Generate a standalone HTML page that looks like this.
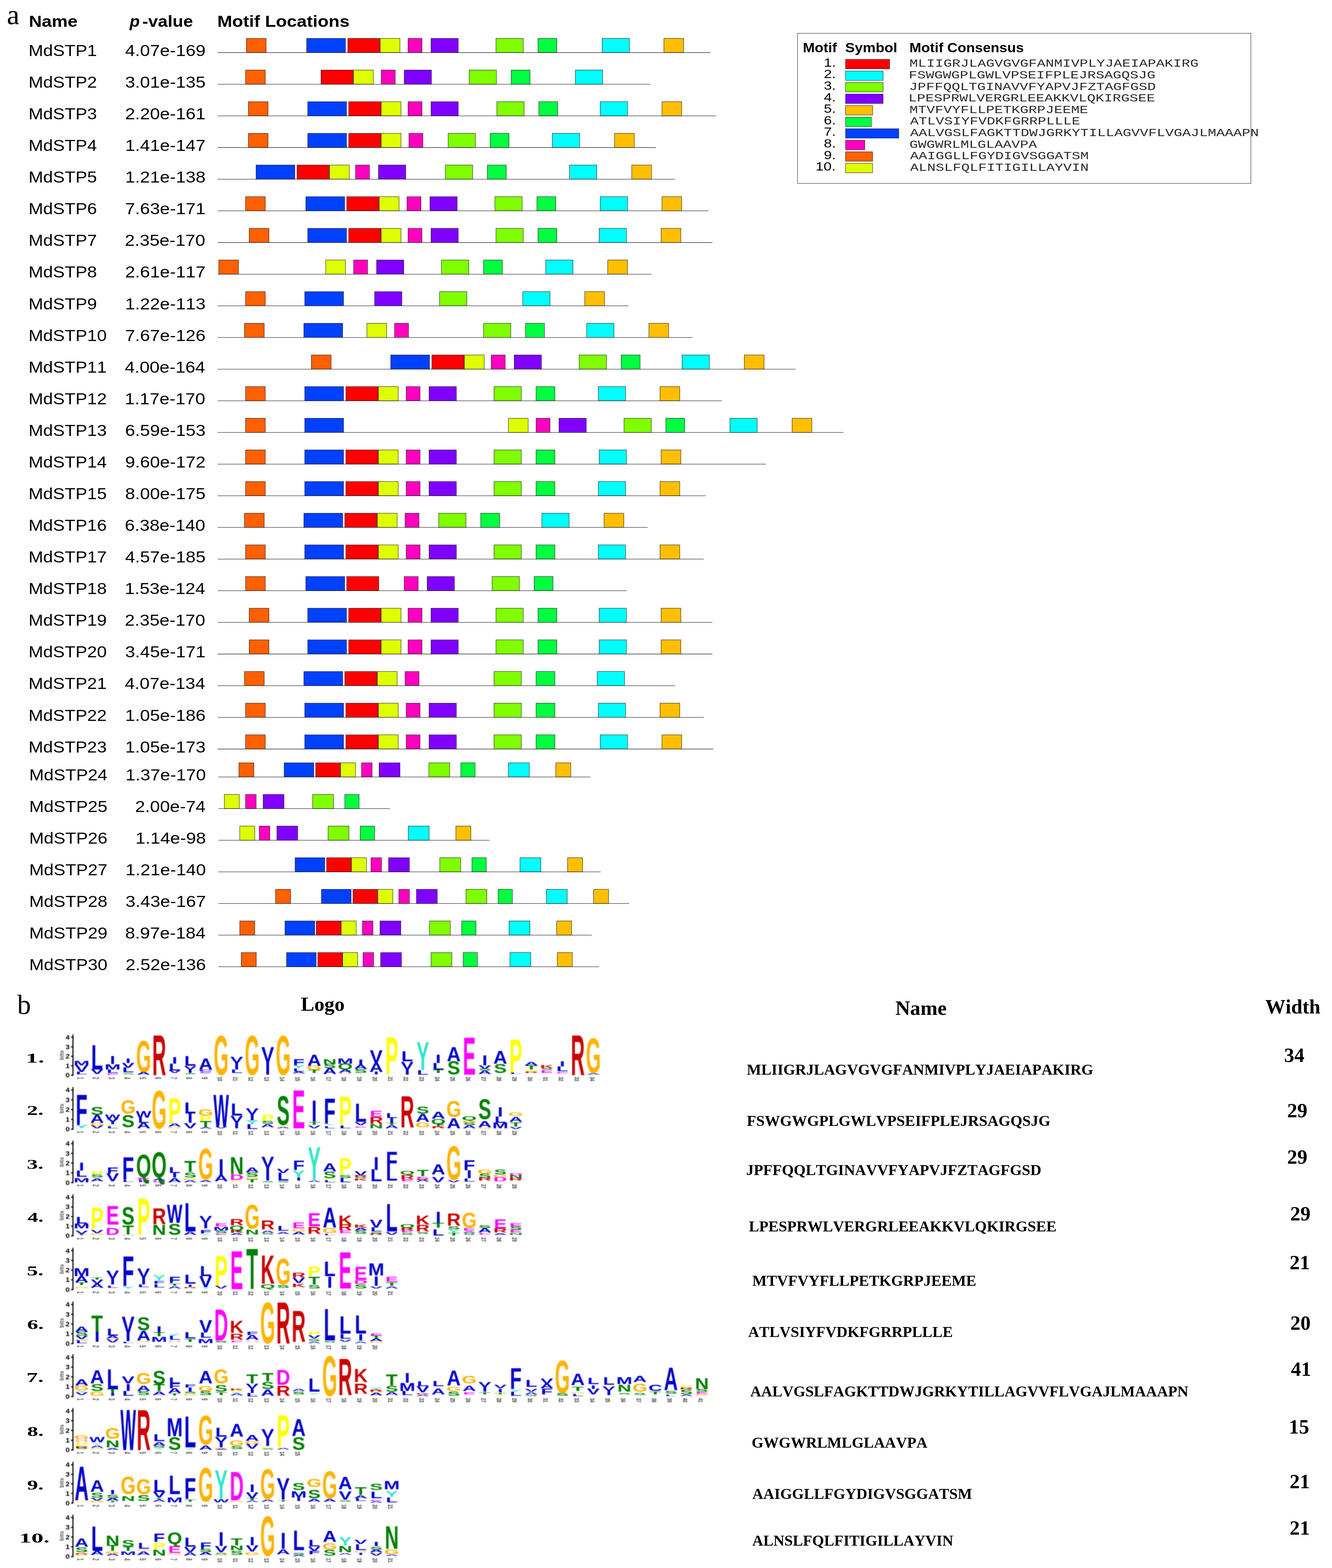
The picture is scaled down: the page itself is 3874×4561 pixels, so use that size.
<!DOCTYPE html>
<html><head><meta charset="utf-8"><title>MdSTP motifs</title>
<style>
html,body{margin:0;padding:0;background:#fff}
body{width:3874px;height:4561px;position:relative;overflow:hidden;font-family:"Liberation Sans",sans-serif;color:#000}
.t{position:absolute;white-space:nowrap;line-height:1;transform-origin:0 0;font-kerning:none;font-variant-ligatures:none}
.sf{font-family:"Liberation Serif",serif}
.mn{font-family:"Liberation Mono",monospace}
svg{position:absolute;left:0;top:0}
.ln{stroke:#1c1c1c;stroke-width:1.3;fill:none}
.bk{stroke:#111;stroke-width:1.1}
.tk{font:bold 19px "Liberation Sans",sans-serif;text-anchor:end;fill:#000}
.bt{font:bold 16px "Liberation Sans",sans-serif;text-anchor:middle;fill:#555}
.cn{font:bold 25px "Liberation Sans",sans-serif;fill:#4a4a4a}
.c2{font-size:19px;fill:#333}
.lg{filter:blur(0.9px)}
.g{font:bold 1.4535px "Liberation Sans",sans-serif;text-anchor:middle}
</style></head><body>
<svg width="3874" height="4561" viewBox="0 0 3874 4561">
<g><path d="M633 153H2066.21" class="ln"/><rect x="716.63" y="111.7" width="57.4" height="41" fill="#FF6000" class="bk"/><rect x="891.86" y="111.7" width="112.9" height="41" fill="#0040FF" class="bk"/><rect x="1011.59" y="111.7" width="93.2" height="41" fill="#FF0000" class="bk"/><rect x="1105.75" y="111.7" width="57.4" height="41" fill="#DFFF00" class="bk"/><rect x="1186.81" y="111.7" width="40.6" height="41" fill="#FF00BF" class="bk"/><rect x="1253.54" y="111.7" width="79.3" height="41" fill="#8000FF" class="bk"/><rect x="1442.48" y="111.7" width="79.3" height="41" fill="#80FF00" class="bk"/><rect x="1564.7" y="111.7" width="54.8" height="41" fill="#00FF40" class="bk"/><rect x="1751.28" y="111.7" width="79.3" height="41" fill="#00FFFF" class="bk"/><rect x="1930.87" y="111.7" width="57.4" height="41" fill="#FFBF00" class="bk"/><path d="M633 245.08H1891.61" class="ln"/><rect x="714.14" y="203.78" width="57.4" height="41" fill="#FF6000" class="bk"/><rect x="933.64" y="203.78" width="93.2" height="41" fill="#FF0000" class="bk"/><rect x="1028.42" y="203.78" width="57.4" height="41" fill="#DFFF00" class="bk"/><rect x="1108.87" y="203.78" width="40.6" height="41" fill="#FF00BF" class="bk"/><rect x="1175.59" y="203.78" width="79.3" height="41" fill="#8000FF" class="bk"/><rect x="1364.53" y="203.78" width="79.3" height="41" fill="#80FF00" class="bk"/><rect x="1486.76" y="203.78" width="54.8" height="41" fill="#00FF40" class="bk"/><rect x="1673.21" y="203.78" width="79.3" height="41" fill="#00FFFF" class="bk"/><path d="M633 337.16H2083.05" class="ln"/><rect x="722.24" y="295.86" width="57.4" height="41" fill="#FF6000" class="bk"/><rect x="894.98" y="295.86" width="112.9" height="41" fill="#0040FF" class="bk"/><rect x="1014.08" y="295.86" width="93.2" height="41" fill="#FF0000" class="bk"/><rect x="1108.87" y="295.86" width="57.4" height="41" fill="#DFFF00" class="bk"/><rect x="1186.81" y="295.86" width="40.6" height="41" fill="#FF00BF" class="bk"/><rect x="1253.54" y="295.86" width="79.3" height="41" fill="#8000FF" class="bk"/><rect x="1444.98" y="295.86" width="79.3" height="41" fill="#80FF00" class="bk"/><rect x="1567.2" y="295.86" width="54.8" height="41" fill="#00FF40" class="bk"/><rect x="1745.67" y="295.86" width="79.3" height="41" fill="#00FFFF" class="bk"/><rect x="1925.26" y="295.86" width="57.4" height="41" fill="#FFBF00" class="bk"/><path d="M633 429.24H1907.82" class="ln"/><rect x="722.24" y="387.94" width="57.4" height="41" fill="#FF6000" class="bk"/><rect x="894.98" y="387.94" width="112.9" height="41" fill="#0040FF" class="bk"/><rect x="1014.08" y="387.94" width="93.2" height="41" fill="#FF0000" class="bk"/><rect x="1108.87" y="387.94" width="57.4" height="41" fill="#DFFF00" class="bk"/><rect x="1189.31" y="387.94" width="40.6" height="41" fill="#FF00BF" class="bk"/><rect x="1303.42" y="387.94" width="79.3" height="41" fill="#80FF00" class="bk"/><rect x="1425.65" y="387.94" width="54.8" height="41" fill="#00FF40" class="bk"/><rect x="1606.48" y="387.94" width="79.3" height="41" fill="#00FFFF" class="bk"/><rect x="1787.45" y="387.94" width="57.4" height="41" fill="#FFBF00" class="bk"/><path d="M633 521.32H1963.32" class="ln"/><rect x="744.69" y="480.02" width="112.9" height="41" fill="#0040FF" class="bk"/><rect x="863.8" y="480.02" width="93.2" height="41" fill="#FF0000" class="bk"/><rect x="958.58" y="480.02" width="57.4" height="41" fill="#DFFF00" class="bk"/><rect x="1034.04" y="480.02" width="40.6" height="41" fill="#FF00BF" class="bk"/><rect x="1100.76" y="480.02" width="79.3" height="41" fill="#8000FF" class="bk"/><rect x="1295.32" y="480.02" width="79.3" height="41" fill="#80FF00" class="bk"/><rect x="1417.54" y="480.02" width="54.8" height="41" fill="#00FF40" class="bk"/><rect x="1656.37" y="480.02" width="79.3" height="41" fill="#00FFFF" class="bk"/><rect x="1837.33" y="480.02" width="57.4" height="41" fill="#FFBF00" class="bk"/><path d="M633 613.4H2060.6" class="ln"/><rect x="714.14" y="572.1" width="57.4" height="41" fill="#FF6000" class="bk"/><rect x="889.36" y="572.1" width="112.9" height="41" fill="#0040FF" class="bk"/><rect x="1008.47" y="572.1" width="93.2" height="41" fill="#FF0000" class="bk"/><rect x="1103.25" y="572.1" width="57.4" height="41" fill="#DFFF00" class="bk"/><rect x="1183.7" y="572.1" width="40.6" height="41" fill="#FF00BF" class="bk"/><rect x="1250.42" y="572.1" width="79.3" height="41" fill="#8000FF" class="bk"/><rect x="1439.36" y="572.1" width="79.3" height="41" fill="#80FF00" class="bk"/><rect x="1561.59" y="572.1" width="54.8" height="41" fill="#00FF40" class="bk"/><rect x="1745.67" y="572.1" width="79.3" height="41" fill="#00FFFF" class="bk"/><rect x="1925.26" y="572.1" width="57.4" height="41" fill="#FFBF00" class="bk"/><path d="M633 705.48H2071.83" class="ln"/><rect x="724.74" y="664.18" width="57.4" height="41" fill="#FF6000" class="bk"/><rect x="894.98" y="664.18" width="112.9" height="41" fill="#0040FF" class="bk"/><rect x="1014.08" y="664.18" width="93.2" height="41" fill="#FF0000" class="bk"/><rect x="1108.87" y="664.18" width="57.4" height="41" fill="#DFFF00" class="bk"/><rect x="1186.81" y="664.18" width="40.6" height="41" fill="#FF00BF" class="bk"/><rect x="1253.54" y="664.18" width="79.3" height="41" fill="#8000FF" class="bk"/><rect x="1442.48" y="664.18" width="79.3" height="41" fill="#80FF00" class="bk"/><rect x="1564.7" y="664.18" width="54.8" height="41" fill="#00FF40" class="bk"/><rect x="1742.55" y="664.18" width="79.3" height="41" fill="#00FFFF" class="bk"/><rect x="1922.77" y="664.18" width="57.4" height="41" fill="#FFBF00" class="bk"/><path d="M633 797.56H1894.73" class="ln"/><rect x="636.19" y="756.26" width="57.4" height="41" fill="#FF6000" class="bk"/><rect x="947.36" y="756.26" width="57.4" height="41" fill="#DFFF00" class="bk"/><rect x="1028.42" y="756.26" width="40.6" height="41" fill="#FF00BF" class="bk"/><rect x="1095.15" y="756.26" width="79.3" height="41" fill="#8000FF" class="bk"/><rect x="1284.09" y="756.26" width="79.3" height="41" fill="#80FF00" class="bk"/><rect x="1406.31" y="756.26" width="54.8" height="41" fill="#00FF40" class="bk"/><rect x="1587.15" y="756.26" width="79.3" height="41" fill="#00FFFF" class="bk"/><rect x="1767.49" y="756.26" width="57.4" height="41" fill="#FFBF00" class="bk"/><path d="M633 889.64H1828" class="ln"/><rect x="714.14" y="848.34" width="57.4" height="41" fill="#FF6000" class="bk"/><rect x="886.25" y="848.34" width="112.9" height="41" fill="#0040FF" class="bk"/><rect x="1089.53" y="848.34" width="79.3" height="41" fill="#8000FF" class="bk"/><rect x="1278.48" y="848.34" width="79.3" height="41" fill="#80FF00" class="bk"/><rect x="1520.43" y="848.34" width="79.3" height="41" fill="#00FFFF" class="bk"/><rect x="1700.77" y="848.34" width="57.4" height="41" fill="#FFBF00" class="bk"/><path d="M633 981.72H2013.83" class="ln"/><rect x="711.02" y="940.42" width="57.4" height="41" fill="#FF6000" class="bk"/><rect x="883.75" y="940.42" width="112.9" height="41" fill="#0040FF" class="bk"/><rect x="1067.09" y="940.42" width="57.4" height="41" fill="#DFFF00" class="bk"/><rect x="1147.53" y="940.42" width="40.6" height="41" fill="#FF00BF" class="bk"/><rect x="1406.31" y="940.42" width="79.3" height="41" fill="#80FF00" class="bk"/><rect x="1528.54" y="940.42" width="54.8" height="41" fill="#00FF40" class="bk"/><rect x="1706.38" y="940.42" width="79.3" height="41" fill="#00FFFF" class="bk"/><rect x="1887.22" y="940.42" width="57.4" height="41" fill="#FFBF00" class="bk"/><path d="M633 1073.8H2313.78" class="ln"/><rect x="905.58" y="1032.5" width="57.4" height="41" fill="#FF6000" class="bk"/><rect x="1136.3" y="1032.5" width="112.9" height="41" fill="#0040FF" class="bk"/><rect x="1256.03" y="1032.5" width="93.2" height="41" fill="#FF0000" class="bk"/><rect x="1350.82" y="1032.5" width="57.4" height="41" fill="#DFFF00" class="bk"/><rect x="1428.76" y="1032.5" width="40.6" height="41" fill="#FF00BF" class="bk"/><rect x="1495.49" y="1032.5" width="79.3" height="41" fill="#8000FF" class="bk"/><rect x="1684.43" y="1032.5" width="79.3" height="41" fill="#80FF00" class="bk"/><rect x="1806.78" y="1032.5" width="54.8" height="41" fill="#00FF40" class="bk"/><rect x="1983.88" y="1032.5" width="79.3" height="41" fill="#00FFFF" class="bk"/><rect x="2164.72" y="1032.5" width="57.4" height="41" fill="#FFBF00" class="bk"/><path d="M633 1165.88H2099.89" class="ln"/><rect x="714.14" y="1124.58" width="57.4" height="41" fill="#FF6000" class="bk"/><rect x="886.25" y="1124.58" width="112.9" height="41" fill="#0040FF" class="bk"/><rect x="1005.97" y="1124.58" width="93.2" height="41" fill="#FF0000" class="bk"/><rect x="1100.76" y="1124.58" width="57.4" height="41" fill="#DFFF00" class="bk"/><rect x="1181.2" y="1124.58" width="40.6" height="41" fill="#FF00BF" class="bk"/><rect x="1247.92" y="1124.58" width="79.3" height="41" fill="#8000FF" class="bk"/><rect x="1436.87" y="1124.58" width="79.3" height="41" fill="#80FF00" class="bk"/><rect x="1559.09" y="1124.58" width="54.8" height="41" fill="#00FF40" class="bk"/><rect x="1740.06" y="1124.58" width="79.3" height="41" fill="#00FFFF" class="bk"/><rect x="1919.65" y="1124.58" width="57.4" height="41" fill="#FFBF00" class="bk"/><path d="M633 1257.96H2452.83" class="ln"/><rect x="714.14" y="1216.66" width="57.4" height="41" fill="#FF6000" class="bk"/><rect x="886.25" y="1216.66" width="112.9" height="41" fill="#0040FF" class="bk"/><rect x="1478.65" y="1216.66" width="57.4" height="41" fill="#DFFF00" class="bk"/><rect x="1559.09" y="1216.66" width="40.6" height="41" fill="#FF00BF" class="bk"/><rect x="1625.82" y="1216.66" width="79.3" height="41" fill="#8000FF" class="bk"/><rect x="1814.89" y="1216.66" width="79.3" height="41" fill="#80FF00" class="bk"/><rect x="1936.48" y="1216.66" width="54.8" height="41" fill="#00FF40" class="bk"/><rect x="2122.94" y="1216.66" width="79.3" height="41" fill="#00FFFF" class="bk"/><rect x="2303.77" y="1216.66" width="57.4" height="41" fill="#FFBF00" class="bk"/><path d="M633 1350.04H2227.72" class="ln"/><rect x="714.14" y="1308.74" width="57.4" height="41" fill="#FF6000" class="bk"/><rect x="886.25" y="1308.74" width="112.9" height="41" fill="#0040FF" class="bk"/><rect x="1005.97" y="1308.74" width="93.2" height="41" fill="#FF0000" class="bk"/><rect x="1100.76" y="1308.74" width="57.4" height="41" fill="#DFFF00" class="bk"/><rect x="1181.2" y="1308.74" width="40.6" height="41" fill="#FF00BF" class="bk"/><rect x="1247.92" y="1308.74" width="79.3" height="41" fill="#8000FF" class="bk"/><rect x="1436.87" y="1308.74" width="79.3" height="41" fill="#80FF00" class="bk"/><rect x="1559.09" y="1308.74" width="54.8" height="41" fill="#00FF40" class="bk"/><rect x="1742.55" y="1308.74" width="79.3" height="41" fill="#00FFFF" class="bk"/><rect x="1922.77" y="1308.74" width="57.4" height="41" fill="#FFBF00" class="bk"/><path d="M633 1442.12H2052.49" class="ln"/><rect x="714.14" y="1400.82" width="57.4" height="41" fill="#FF6000" class="bk"/><rect x="886.25" y="1400.82" width="112.9" height="41" fill="#0040FF" class="bk"/><rect x="1005.97" y="1400.82" width="93.2" height="41" fill="#FF0000" class="bk"/><rect x="1100.76" y="1400.82" width="57.4" height="41" fill="#DFFF00" class="bk"/><rect x="1181.2" y="1400.82" width="40.6" height="41" fill="#FF00BF" class="bk"/><rect x="1247.92" y="1400.82" width="79.3" height="41" fill="#8000FF" class="bk"/><rect x="1436.87" y="1400.82" width="79.3" height="41" fill="#80FF00" class="bk"/><rect x="1559.09" y="1400.82" width="54.8" height="41" fill="#00FF40" class="bk"/><rect x="1740.06" y="1400.82" width="79.3" height="41" fill="#00FFFF" class="bk"/><rect x="1919.65" y="1400.82" width="57.4" height="41" fill="#FFBF00" class="bk"/><path d="M633 1534.2H1883.5" class="ln"/><rect x="711.02" y="1492.9" width="57.4" height="41" fill="#FF6000" class="bk"/><rect x="883.75" y="1492.9" width="112.9" height="41" fill="#0040FF" class="bk"/><rect x="1002.86" y="1492.9" width="93.2" height="41" fill="#FF0000" class="bk"/><rect x="1097.64" y="1492.9" width="57.4" height="41" fill="#DFFF00" class="bk"/><rect x="1178.08" y="1492.9" width="40.6" height="41" fill="#FF00BF" class="bk"/><rect x="1275.99" y="1492.9" width="79.3" height="41" fill="#80FF00" class="bk"/><rect x="1398.21" y="1492.9" width="54.8" height="41" fill="#00FF40" class="bk"/><rect x="1575.93" y="1492.9" width="79.3" height="41" fill="#00FFFF" class="bk"/><rect x="1756.89" y="1492.9" width="57.4" height="41" fill="#FFBF00" class="bk"/><path d="M633 1626.28H2046.88" class="ln"/><rect x="714.14" y="1584.98" width="57.4" height="41" fill="#FF6000" class="bk"/><rect x="886.25" y="1584.98" width="112.9" height="41" fill="#0040FF" class="bk"/><rect x="1005.97" y="1584.98" width="93.2" height="41" fill="#FF0000" class="bk"/><rect x="1100.76" y="1584.98" width="57.4" height="41" fill="#DFFF00" class="bk"/><rect x="1181.2" y="1584.98" width="40.6" height="41" fill="#FF00BF" class="bk"/><rect x="1247.92" y="1584.98" width="79.3" height="41" fill="#8000FF" class="bk"/><rect x="1436.87" y="1584.98" width="79.3" height="41" fill="#80FF00" class="bk"/><rect x="1559.09" y="1584.98" width="54.8" height="41" fill="#00FF40" class="bk"/><rect x="1740.06" y="1584.98" width="79.3" height="41" fill="#00FFFF" class="bk"/><rect x="1919.65" y="1584.98" width="57.4" height="41" fill="#FFBF00" class="bk"/><path d="M633 1718.36H1822.39" class="ln"/><rect x="714.14" y="1677.06" width="57.4" height="41" fill="#FF6000" class="bk"/><rect x="889.36" y="1677.06" width="112.9" height="41" fill="#0040FF" class="bk"/><rect x="1008.47" y="1677.06" width="93.2" height="41" fill="#FF0000" class="bk"/><rect x="1175.59" y="1677.06" width="40.6" height="41" fill="#FF00BF" class="bk"/><rect x="1242.31" y="1677.06" width="79.3" height="41" fill="#8000FF" class="bk"/><rect x="1431.26" y="1677.06" width="79.3" height="41" fill="#80FF00" class="bk"/><rect x="1553.48" y="1677.06" width="54.8" height="41" fill="#00FF40" class="bk"/><path d="M633 1810.44H2071.83" class="ln"/><rect x="724.74" y="1769.14" width="57.4" height="41" fill="#FF6000" class="bk"/><rect x="894.98" y="1769.14" width="112.9" height="41" fill="#0040FF" class="bk"/><rect x="1014.08" y="1769.14" width="93.2" height="41" fill="#FF0000" class="bk"/><rect x="1108.87" y="1769.14" width="57.4" height="41" fill="#DFFF00" class="bk"/><rect x="1186.81" y="1769.14" width="40.6" height="41" fill="#FF00BF" class="bk"/><rect x="1253.54" y="1769.14" width="79.3" height="41" fill="#8000FF" class="bk"/><rect x="1442.48" y="1769.14" width="79.3" height="41" fill="#80FF00" class="bk"/><rect x="1564.7" y="1769.14" width="54.8" height="41" fill="#00FF40" class="bk"/><rect x="1742.55" y="1769.14" width="79.3" height="41" fill="#00FFFF" class="bk"/><rect x="1922.77" y="1769.14" width="57.4" height="41" fill="#FFBF00" class="bk"/><path d="M633 1902.52H2071.83" class="ln"/><rect x="724.74" y="1861.22" width="57.4" height="41" fill="#FF6000" class="bk"/><rect x="894.98" y="1861.22" width="112.9" height="41" fill="#0040FF" class="bk"/><rect x="1014.08" y="1861.22" width="93.2" height="41" fill="#FF0000" class="bk"/><rect x="1108.87" y="1861.22" width="57.4" height="41" fill="#DFFF00" class="bk"/><rect x="1186.81" y="1861.22" width="40.6" height="41" fill="#FF00BF" class="bk"/><rect x="1253.54" y="1861.22" width="79.3" height="41" fill="#8000FF" class="bk"/><rect x="1442.48" y="1861.22" width="79.3" height="41" fill="#80FF00" class="bk"/><rect x="1564.7" y="1861.22" width="54.8" height="41" fill="#00FF40" class="bk"/><rect x="1742.55" y="1861.22" width="79.3" height="41" fill="#00FFFF" class="bk"/><rect x="1922.77" y="1861.22" width="57.4" height="41" fill="#FFBF00" class="bk"/><path d="M633 1994.6H1963.32" class="ln"/><rect x="711.02" y="1953.3" width="57.4" height="41" fill="#FF6000" class="bk"/><rect x="883.75" y="1953.3" width="112.9" height="41" fill="#0040FF" class="bk"/><rect x="1002.86" y="1953.3" width="93.2" height="41" fill="#FF0000" class="bk"/><rect x="1097.64" y="1953.3" width="57.4" height="41" fill="#DFFF00" class="bk"/><rect x="1178.08" y="1953.3" width="40.6" height="41" fill="#FF00BF" class="bk"/><rect x="1436.87" y="1953.3" width="79.3" height="41" fill="#80FF00" class="bk"/><rect x="1559.09" y="1953.3" width="54.8" height="41" fill="#00FF40" class="bk"/><rect x="1736.94" y="1953.3" width="79.3" height="41" fill="#00FFFF" class="bk"/><path d="M633 2086.68H2046.88" class="ln"/><rect x="714.14" y="2045.38" width="57.4" height="41" fill="#FF6000" class="bk"/><rect x="886.25" y="2045.38" width="112.9" height="41" fill="#0040FF" class="bk"/><rect x="1005.97" y="2045.38" width="93.2" height="41" fill="#FF0000" class="bk"/><rect x="1100.76" y="2045.38" width="57.4" height="41" fill="#DFFF00" class="bk"/><rect x="1181.2" y="2045.38" width="40.6" height="41" fill="#FF00BF" class="bk"/><rect x="1247.92" y="2045.38" width="79.3" height="41" fill="#8000FF" class="bk"/><rect x="1436.87" y="2045.38" width="79.3" height="41" fill="#80FF00" class="bk"/><rect x="1559.09" y="2045.38" width="54.8" height="41" fill="#00FF40" class="bk"/><rect x="1740.06" y="2045.38" width="79.3" height="41" fill="#00FFFF" class="bk"/><rect x="1919.65" y="2045.38" width="57.4" height="41" fill="#FFBF00" class="bk"/><path d="M633 2178.76H2074.32" class="ln"/><rect x="714.14" y="2137.46" width="57.4" height="41" fill="#FF6000" class="bk"/><rect x="886.25" y="2137.46" width="112.9" height="41" fill="#0040FF" class="bk"/><rect x="1005.97" y="2137.46" width="93.2" height="41" fill="#FF0000" class="bk"/><rect x="1100.76" y="2137.46" width="57.4" height="41" fill="#DFFF00" class="bk"/><rect x="1181.2" y="2137.46" width="40.6" height="41" fill="#FF00BF" class="bk"/><rect x="1247.92" y="2137.46" width="79.3" height="41" fill="#8000FF" class="bk"/><rect x="1436.87" y="2137.46" width="79.3" height="41" fill="#80FF00" class="bk"/><rect x="1559.09" y="2137.46" width="54.8" height="41" fill="#00FF40" class="bk"/><rect x="1745.67" y="2137.46" width="79.3" height="41" fill="#00FFFF" class="bk"/><rect x="1925.26" y="2137.46" width="57.4" height="41" fill="#FFBF00" class="bk"/><path d="M635 2260.2H1717.01" class="ln"/><rect x="694.81" y="2218.9" width="43.63" height="41" fill="#FF6000" class="bk"/><rect x="826.38" y="2218.9" width="86.33" height="41" fill="#0040FF" class="bk"/><rect x="918.05" y="2218.9" width="71.39" height="41" fill="#FF0000" class="bk"/><rect x="990.38" y="2218.9" width="43.63" height="41" fill="#DFFF00" class="bk"/><rect x="1051.5" y="2218.9" width="30.82" height="41" fill="#FF00BF" class="bk"/><rect x="1102.63" y="2218.9" width="60.71" height="41" fill="#8000FF" class="bk"/><rect x="1247.3" y="2218.9" width="60.71" height="41" fill="#80FF00" class="bk"/><rect x="1340.21" y="2218.9" width="41.5" height="41" fill="#00FF40" class="bk"/><rect x="1478.65" y="2218.9" width="60.71" height="41" fill="#00FFFF" class="bk"/><rect x="1616.46" y="2218.9" width="43.63" height="41" fill="#FFBF00" class="bk"/><path d="M635 2352.2H1133.83" class="ln"/><rect x="652.4" y="2310.9" width="43.63" height="41" fill="#DFFF00" class="bk"/><rect x="714.14" y="2310.9" width="30.82" height="41" fill="#FF00BF" class="bk"/><rect x="765.27" y="2310.9" width="60.71" height="41" fill="#8000FF" class="bk"/><rect x="909.32" y="2310.9" width="60.71" height="41" fill="#80FF00" class="bk"/><rect x="1002.86" y="2310.9" width="41.5" height="41" fill="#00FF40" class="bk"/><path d="M635 2444.2H1424.42" class="ln"/><rect x="697.3" y="2402.9" width="43.63" height="41" fill="#DFFF00" class="bk"/><rect x="754.05" y="2402.9" width="30.82" height="41" fill="#FF00BF" class="bk"/><rect x="805.18" y="2402.9" width="60.71" height="41" fill="#8000FF" class="bk"/><rect x="954.22" y="2402.9" width="60.71" height="41" fill="#80FF00" class="bk"/><rect x="1047.75" y="2402.9" width="41.5" height="41" fill="#00FF40" class="bk"/><rect x="1187.44" y="2402.9" width="60.71" height="41" fill="#00FFFF" class="bk"/><rect x="1325.87" y="2402.9" width="43.63" height="41" fill="#FFBF00" class="bk"/><path d="M635 2536.2H1746.94" class="ln"/><rect x="858.19" y="2494.9" width="86.33" height="41" fill="#0040FF" class="bk"/><rect x="949.85" y="2494.9" width="71.39" height="41" fill="#FF0000" class="bk"/><rect x="1022.19" y="2494.9" width="43.63" height="41" fill="#DFFF00" class="bk"/><rect x="1078.93" y="2494.9" width="30.82" height="41" fill="#FF00BF" class="bk"/><rect x="1130.07" y="2494.9" width="60.71" height="41" fill="#8000FF" class="bk"/><rect x="1279.1" y="2494.9" width="60.71" height="41" fill="#80FF00" class="bk"/><rect x="1372.64" y="2494.9" width="41.5" height="41" fill="#00FF40" class="bk"/><rect x="1512.32" y="2494.9" width="60.71" height="41" fill="#00FFFF" class="bk"/><rect x="1650.76" y="2494.9" width="43.63" height="41" fill="#FFBF00" class="bk"/><path d="M635 2628.2H1829.88" class="ln"/><rect x="801.44" y="2586.9" width="43.63" height="41" fill="#FF6000" class="bk"/><rect x="934.89" y="2586.9" width="86.33" height="41" fill="#0040FF" class="bk"/><rect x="1026.55" y="2586.9" width="71.39" height="41" fill="#FF0000" class="bk"/><rect x="1098.89" y="2586.9" width="43.63" height="41" fill="#DFFF00" class="bk"/><rect x="1160" y="2586.9" width="30.82" height="41" fill="#FF00BF" class="bk"/><rect x="1211.13" y="2586.9" width="60.71" height="41" fill="#8000FF" class="bk"/><rect x="1355.18" y="2586.9" width="60.71" height="41" fill="#80FF00" class="bk"/><rect x="1448.72" y="2586.9" width="41.5" height="41" fill="#00FF40" class="bk"/><rect x="1589.02" y="2586.9" width="60.71" height="41" fill="#00FFFF" class="bk"/><rect x="1726.34" y="2586.9" width="43.63" height="41" fill="#FFBF00" class="bk"/><path d="M635 2720.2H1721.37" class="ln"/><rect x="697.3" y="2678.9" width="43.63" height="41" fill="#FF6000" class="bk"/><rect x="828.88" y="2678.9" width="86.33" height="41" fill="#0040FF" class="bk"/><rect x="919.92" y="2678.9" width="71.39" height="41" fill="#FF0000" class="bk"/><rect x="992.26" y="2678.9" width="43.63" height="41" fill="#DFFF00" class="bk"/><rect x="1053.99" y="2678.9" width="30.82" height="41" fill="#FF00BF" class="bk"/><rect x="1105.12" y="2678.9" width="60.71" height="41" fill="#8000FF" class="bk"/><rect x="1249.17" y="2678.9" width="60.71" height="41" fill="#80FF00" class="bk"/><rect x="1342.71" y="2678.9" width="41.5" height="41" fill="#00FF40" class="bk"/><rect x="1480.52" y="2678.9" width="60.71" height="41" fill="#00FFFF" class="bk"/><rect x="1618.96" y="2678.9" width="43.63" height="41" fill="#FFBF00" class="bk"/><path d="M635 2812.2H1742.57" class="ln"/><rect x="701.67" y="2770.9" width="43.63" height="41" fill="#FF6000" class="bk"/><rect x="833.24" y="2770.9" width="86.33" height="41" fill="#0040FF" class="bk"/><rect x="924.28" y="2770.9" width="71.39" height="41" fill="#FF0000" class="bk"/><rect x="996.62" y="2770.9" width="43.63" height="41" fill="#DFFF00" class="bk"/><rect x="1055.86" y="2770.9" width="30.82" height="41" fill="#FF00BF" class="bk"/><rect x="1106.99" y="2770.9" width="60.71" height="41" fill="#8000FF" class="bk"/><rect x="1253.54" y="2770.9" width="60.71" height="41" fill="#80FF00" class="bk"/><rect x="1347.07" y="2770.9" width="41.5" height="41" fill="#00FF40" class="bk"/><rect x="1483.01" y="2770.9" width="60.71" height="41" fill="#00FFFF" class="bk"/><rect x="1620.83" y="2770.9" width="43.63" height="41" fill="#FFBF00" class="bk"/><rect x="2319.5" y="96.8" width="1318.7" height="436.7" fill="none" stroke="#555" stroke-width="1.6"/><rect x="2459.2" y="172.8" width="128.2" height="27.4" fill="#FF0000" class="bk"/><rect x="2459.2" y="206.4" width="109.2" height="27.4" fill="#00FFFF" class="bk"/><rect x="2459.2" y="240" width="109.2" height="27.4" fill="#80FF00" class="bk"/><rect x="2459.2" y="273.6" width="109.2" height="27.4" fill="#8000FF" class="bk"/><rect x="2459.2" y="307.2" width="78.8" height="27.4" fill="#FFBF00" class="bk"/><rect x="2459.2" y="340.8" width="75" height="27.4" fill="#00FF40" class="bk"/><rect x="2459.2" y="374.4" width="154.8" height="27.4" fill="#0040FF" class="bk"/><rect x="2459.2" y="408" width="56" height="27.4" fill="#FF00BF" class="bk"/><rect x="2459.2" y="441.6" width="78.8" height="27.4" fill="#FF6000" class="bk"/><rect x="2459.2" y="475.2" width="78.8" height="27.4" fill="#DFFF00" class="bk"/></g>
<g class="lg"><g><path d="M212.2 3009.12V3129.4" stroke="#000" stroke-width="3.2" fill="none"/><path d="M206.6 3127.8H212.2" stroke="#000" stroke-width="3.2" fill="none"/><text transform="translate(202.7 3134.4) scale(1.12 1)" class="tk">0</text><path d="M206.6 3100.2H212.2" stroke="#000" stroke-width="3.2" fill="none"/><text transform="translate(202.7 3106.8) scale(1.12 1)" class="tk">1</text><path d="M206.6 3072.6H212.2" stroke="#000" stroke-width="3.2" fill="none"/><text transform="translate(202.7 3079.2) scale(1.12 1)" class="tk">2</text><path d="M206.6 3045H212.2" stroke="#000" stroke-width="3.2" fill="none"/><text transform="translate(202.7 3051.6) scale(1.12 1)" class="tk">3</text><path d="M206.6 3017.4H212.2" stroke="#000" stroke-width="3.2" fill="none"/><text transform="translate(202.7 3024) scale(1.12 1)" class="tk">4</text><text transform="translate(184.5 3069.29) rotate(-90)" class="bt">bits</text>
<text class="g" transform="translate(237.35 3086.68) scale(38.5 12.14)" y="1" fill="#0000CC">M</text><text class="g" transform="translate(237.35 3098.82) scale(38.5 18.77)" y="1" fill="#0000CC">V</text><text class="g" transform="translate(237.35 3117.59) scale(38.5 7.45)" y="1" fill="#0000CC">L</text><text transform="translate(225.35 3133) rotate(90) scale(0.43 1)" class="cn">1</text>
<text class="g" transform="translate(282.45 3040.58) scale(38.5 70.1)" y="1" fill="#0000CC">L</text><text class="g" transform="translate(282.45 3110.69) scale(38.5 13.8)" y="1" fill="#0000CC">V</text><text transform="translate(270.45 3133) rotate(90) scale(0.43 1)" class="cn">2</text>
<text class="g" transform="translate(327.55 3072.6) scale(38.5 22.63)" y="1" fill="#0000CC">I</text><text class="g" transform="translate(327.55 3095.23) scale(38.5 15.46)" y="1" fill="#0000CC">M</text><text class="g" transform="translate(327.55 3110.69) scale(38.5 10.21)" y="1" fill="#0000CC">L</text><text class="g" transform="translate(327.55 3123.66) scale(38.5 1.93)" y="1" fill="#FF00FF">E</text><text transform="translate(315.55 3133) rotate(90) scale(0.43 1)" class="cn">3</text>
<text class="g" transform="translate(372.65 3078.95) scale(38.5 12.97)" y="1" fill="#0000CC">I</text><text class="g" transform="translate(372.65 3091.92) scale(38.5 13.8)" y="1" fill="#0000CC">V</text><text class="g" transform="translate(372.65 3105.72) scale(38.5 13.52)" y="1" fill="#0000CC">L</text><text class="g" transform="translate(372.65 3122.28) scale(38.5 2.76)" y="1" fill="#008000">S</text><text transform="translate(360.65 3133) rotate(90) scale(0.43 1)" class="cn">4</text>
<text class="g" transform="translate(417.75 3028.72) scale(38.5 90.53)" y="1" fill="#FFB300">G</text><text class="g" transform="translate(417.75 3119.24) scale(38.5 6.9)" y="1" fill="#0000CC">A</text><text transform="translate(405.75 3133) rotate(90) scale(0.43 1)" class="cn">5</text>
<text class="g" transform="translate(462.85 3013.26) scale(38.5 114.54)" y="1" fill="#CC0000">R</text><text transform="translate(450.85 3133) rotate(90) scale(0.43 1)" class="cn">6</text>
<text class="g" transform="translate(507.95 3074.81) scale(38.5 18.77)" y="1" fill="#0000CC">I</text><text class="g" transform="translate(507.95 3093.58) scale(38.5 20.42)" y="1" fill="#0000CC">L</text><text class="g" transform="translate(507.95 3114) scale(38.5 6.9)" y="1" fill="#0000CC">V</text><text transform="translate(495.95 3133) rotate(90) scale(0.43 1)" class="cn">7</text>
<text class="g" transform="translate(553.05 3072.6) scale(38.5 27.6)" y="1" fill="#0000CC">L</text><text class="g" transform="translate(553.05 3100.2) scale(38.5 10.49)" y="1" fill="#0000CC">V</text><text class="g" transform="translate(553.05 3110.69) scale(38.5 10.21)" y="1" fill="#0000CC">I</text><text class="g" transform="translate(553.05 3122.28) scale(38.5 2.76)" y="1" fill="#008000">S</text><text transform="translate(541.05 3133) rotate(90) scale(0.43 1)" class="cn">8</text>
<text class="g" transform="translate(598.15 3078.95) scale(38.5 31.74)" y="1" fill="#0000CC">A</text><text class="g" transform="translate(598.15 3110.69) scale(38.5 6.07)" y="1" fill="#0000CC">C</text><text class="g" transform="translate(598.15 3118.14) scale(38.5 2.76)" y="1" fill="#FF00FF">E</text><text class="g" transform="translate(598.15 3120.9) scale(38.5 2.76)" y="1" fill="#33E6CC">Y</text><text transform="translate(586.15 3133) rotate(90) scale(0.43 1)" class="cn">9</text>
<text class="g" transform="translate(643.25 3013.26) scale(38.5 112.88)" y="1" fill="#FFB300">G</text><text transform="translate(633.25 3132.2) rotate(90) scale(0.6 1)" class="cn c2">10</text>
<text class="g" transform="translate(688.35 3074.81) scale(38.5 17.11)" y="1" fill="#0000CC">V</text><text class="g" transform="translate(688.35 3091.92) scale(38.5 18.77)" y="1" fill="#0000CC">I</text><text class="g" transform="translate(688.35 3110.69) scale(38.5 10.21)" y="1" fill="#0000CC">L</text><text transform="translate(678.35 3132.2) rotate(90) scale(0.6 1)" class="cn c2">11</text>
<text class="g" transform="translate(733.45 3013.26) scale(38.5 112.88)" y="1" fill="#FFB300">G</text><text transform="translate(723.45 3132.2) rotate(90) scale(0.6 1)" class="cn c2">12</text>
<text class="g" transform="translate(778.55 3045.83) scale(38.5 42.78)" y="1" fill="#0000CC">V</text><text class="g" transform="translate(778.55 3088.61) scale(38.5 37.54)" y="1" fill="#0000CC">I</text><text transform="translate(768.55 3132.2) rotate(90) scale(0.6 1)" class="cn c2">13</text>
<text class="g" transform="translate(823.65 3013.26) scale(38.5 112.88)" y="1" fill="#FFB300">G</text><text transform="translate(813.65 3132.2) rotate(90) scale(0.6 1)" class="cn c2">14</text>
<text class="g" transform="translate(868.75 3081.71) scale(38.5 17.11)" y="1" fill="#0000CC">F</text><text class="g" transform="translate(868.75 3098.82) scale(38.5 8.56)" y="1" fill="#33E6CC">Y</text><text class="g" transform="translate(868.75 3107.38) scale(38.5 9.38)" y="1" fill="#0000CC">L</text><text class="g" transform="translate(868.75 3116.76) scale(38.5 5.52)" y="1" fill="#0000CC">A</text><text transform="translate(858.75 3132.2) rotate(90) scale(0.6 1)" class="cn c2">15</text>
<text class="g" transform="translate(913.85 3067.91) scale(38.5 32.29)" y="1" fill="#0000CC">A</text><text class="g" transform="translate(913.85 3100.2) scale(38.5 12.14)" y="1" fill="#FFB300">G</text><text class="g" transform="translate(913.85 3112.34) scale(38.5 8.56)" y="1" fill="#008000">T</text><text transform="translate(903.85 3132.2) rotate(90) scale(0.6 1)" class="cn c2">16</text>
<text class="g" transform="translate(958.95 3081.71) scale(38.5 13.52)" y="1" fill="#008000">N</text><text class="g" transform="translate(958.95 3095.23) scale(38.5 12.14)" y="1" fill="#008000">S</text><text class="g" transform="translate(958.95 3107.38) scale(38.5 17.11)" y="1" fill="#0000CC">A</text><text transform="translate(948.95 3132.2) rotate(90) scale(0.6 1)" class="cn c2">17</text>
<text class="g" transform="translate(1004.05 3078.95) scale(38.5 14.63)" y="1" fill="#0000CC">M</text><text class="g" transform="translate(1004.05 3093.58) scale(38.5 17.11)" y="1" fill="#008000">Q</text><text class="g" transform="translate(1004.05 3110.69) scale(38.5 8.83)" y="1" fill="#0000CC">A</text><text class="g" transform="translate(1004.05 3119.52) scale(38.5 4.14)" y="1" fill="#FFB3B3">H</text><text transform="translate(994.05 3132.2) rotate(90) scale(0.6 1)" class="cn c2">18</text>
<text class="g" transform="translate(1049.15 3081.71) scale(38.5 15.46)" y="1" fill="#0000CC">I</text><text class="g" transform="translate(1049.15 3097.16) scale(38.5 11.87)" y="1" fill="#0000CC">A</text><text class="g" transform="translate(1049.15 3109.03) scale(38.5 11.87)" y="1" fill="#008000">S</text><text transform="translate(1039.15 3132.2) rotate(90) scale(0.6 1)" class="cn c2">19</text>
<text class="g" transform="translate(1094.25 3054.38) scale(38.5 37.54)" y="1" fill="#0000CC">V</text><text class="g" transform="translate(1094.25 3091.92) scale(38.5 25.67)" y="1" fill="#0000CC">A</text><text class="g" transform="translate(1094.25 3117.59) scale(38.5 7.45)" y="1" fill="#0000CC">I</text><text transform="translate(1084.25 3132.2) rotate(90) scale(0.6 1)" class="cn c2">20</text>
<text class="g" transform="translate(1139.35 3018.5) scale(38.5 105.98)" y="1" fill="#FFFF00">P</text><text transform="translate(1129.35 3132.2) rotate(90) scale(0.6 1)" class="cn c2">21</text>
<text class="g" transform="translate(1184.45 3057.7) scale(38.5 28.98)" y="1" fill="#0000CC">L</text><text class="g" transform="translate(1184.45 3090.26) scale(38.5 20.98)" y="1" fill="#0000CC">V</text><text class="g" transform="translate(1184.45 3111.24) scale(38.5 14.9)" y="1" fill="#0000CC">I</text><text transform="translate(1174.45 3132.2) rotate(90) scale(0.6 1)" class="cn c2">22</text>
<text class="g" transform="translate(1229.55 3032.03) scale(38.5 80.32)" y="1" fill="#33E6CC">Y</text><text class="g" transform="translate(1229.55 3114) scale(38.5 12.14)" y="1" fill="#0000CC">L</text><text transform="translate(1219.55 3132.2) rotate(90) scale(0.6 1)" class="cn c2">23</text>
<text class="g" transform="translate(1274.65 3067.91) scale(38.5 24.01)" y="1" fill="#0000CC">I</text><text class="g" transform="translate(1274.65 3091.92) scale(38.5 18.77)" y="1" fill="#0000CC">L</text><text class="g" transform="translate(1274.65 3110.69) scale(38.5 10.21)" y="1" fill="#008000">T</text><text transform="translate(1264.65 3132.2) rotate(90) scale(0.6 1)" class="cn c2">24</text>
<text class="g" transform="translate(1319.75 3045.83) scale(38.5 40.85)" y="1" fill="#0000CC">A</text><text class="g" transform="translate(1319.75 3086.68) scale(38.5 37.81)" y="1" fill="#008000">S</text><text transform="translate(1309.75 3132.2) rotate(90) scale(0.6 1)" class="cn c2">25</text>
<text class="g" transform="translate(1364.85 3018.5) scale(38.5 107.64)" y="1" fill="#FF00FF">E</text><text transform="translate(1354.85 3132.2) rotate(90) scale(0.6 1)" class="cn c2">26</text>
<text class="g" transform="translate(1409.95 3069.84) scale(38.5 28.98)" y="1" fill="#0000CC">I</text><text class="g" transform="translate(1409.95 3098.82) scale(38.5 10.21)" y="1" fill="#0000CC">V</text><text class="g" transform="translate(1409.95 3107.38) scale(38.5 6.62)" y="1" fill="#008000">S</text><text class="g" transform="translate(1409.95 3114) scale(38.5 10.49)" y="1" fill="#0000CC">A</text><text transform="translate(1399.95 3132.2) rotate(90) scale(0.6 1)" class="cn c2">27</text>
<text class="g" transform="translate(1455.05 3056.04) scale(38.5 37.54)" y="1" fill="#0000CC">A</text><text class="g" transform="translate(1455.05 3095.23) scale(38.5 25.67)" y="1" fill="#008000">S</text><text transform="translate(1445.05 3132.2) rotate(90) scale(0.6 1)" class="cn c2">28</text>
<text class="g" transform="translate(1500.15 3023.47) scale(38.5 97.43)" y="1" fill="#FFFF00">P</text><text class="g" transform="translate(1500.15 3120.9) scale(38.5 3.59)" y="1" fill="#0000CC">L</text><text transform="translate(1490.15 3132.2) rotate(90) scale(0.6 1)" class="cn c2">29</text>
<text class="g" transform="translate(1545.25 3088.61) scale(38.5 10.21)" y="1" fill="#0000CC">A</text><text class="g" transform="translate(1545.25 3098.82) scale(38.5 11.87)" y="1" fill="#008000">T</text><text class="g" transform="translate(1545.25 3112.34) scale(38.5 5.24)" y="1" fill="#FFFF00">P</text><text class="g" transform="translate(1545.25 3117.59) scale(38.5 3.31)" y="1" fill="#CC0000">R</text><text transform="translate(1535.25 3132.2) rotate(90) scale(0.6 1)" class="cn c2">30</text>
<text class="g" transform="translate(1590.35 3098.82) scale(38.5 6.9)" y="1" fill="#CC0000">K</text><text class="g" transform="translate(1590.35 3105.72) scale(38.5 5.52)" y="1" fill="#008000">S</text><text class="g" transform="translate(1590.35 3114) scale(38.5 6.9)" y="1" fill="#FF00FF">E</text><text transform="translate(1580.35 3132.2) rotate(90) scale(0.6 1)" class="cn c2">31</text>
<text class="g" transform="translate(1635.45 3086.68) scale(38.5 15.46)" y="1" fill="#0000CC">I</text><text class="g" transform="translate(1635.45 3102.13) scale(38.5 13.8)" y="1" fill="#0000CC">L</text><text class="g" transform="translate(1635.45 3119.52) scale(38.5 2.76)" y="1" fill="#FF00FF">E</text><text transform="translate(1625.45 3132.2) rotate(90) scale(0.6 1)" class="cn c2">32</text>
<text class="g" transform="translate(1680.55 3013.26) scale(38.5 114.54)" y="1" fill="#CC0000">R</text><text transform="translate(1670.55 3132.2) rotate(90) scale(0.6 1)" class="cn c2">33</text>
<text class="g" transform="translate(1725.65 3021.82) scale(38.5 99.08)" y="1" fill="#FFB300">G</text><text class="g" transform="translate(1725.65 3122.28) scale(38.5 3.86)" y="1" fill="#0000CC">A</text><text transform="translate(1715.65 3132.2) rotate(90) scale(0.6 1)" class="cn c2">34</text></g>
<g><path d="M212.2 3162.15V3286.3" stroke="#000" stroke-width="3.2" fill="none"/><path d="M206.6 3284.7H212.2" stroke="#000" stroke-width="3.2" fill="none"/><text transform="translate(202.7 3291.3) scale(1.12 1)" class="tk">0</text><path d="M206.6 3256.2H212.2" stroke="#000" stroke-width="3.2" fill="none"/><text transform="translate(202.7 3262.8) scale(1.12 1)" class="tk">1</text><path d="M206.6 3227.7H212.2" stroke="#000" stroke-width="3.2" fill="none"/><text transform="translate(202.7 3234.3) scale(1.12 1)" class="tk">2</text><path d="M206.6 3199.2H212.2" stroke="#000" stroke-width="3.2" fill="none"/><text transform="translate(202.7 3205.8) scale(1.12 1)" class="tk">3</text><path d="M206.6 3170.7H212.2" stroke="#000" stroke-width="3.2" fill="none"/><text transform="translate(202.7 3177.3) scale(1.12 1)" class="tk">4</text><text transform="translate(184.5 3224.28) rotate(-90)" class="bt">bits</text>
<text class="g" transform="translate(237.35 3184.38) scale(38.5 87.21)" y="1" fill="#0000CC">F</text><text class="g" transform="translate(237.35 3271.59) scale(38.5 9.98)" y="1" fill="#33E6CC">Y</text><text transform="translate(225.35 3289.9) rotate(90) scale(0.43 1)" class="cn">1</text>
<text class="g" transform="translate(282.45 3220.57) scale(38.5 22.52)" y="1" fill="#008000">S</text><text class="g" transform="translate(282.45 3243.09) scale(38.5 22.51)" y="1" fill="#0000CC">A</text><text class="g" transform="translate(282.45 3265.61) scale(38.5 9.12)" y="1" fill="#FFB300">G</text><text class="g" transform="translate(282.45 3274.72) scale(38.5 7.12)" y="1" fill="#0000CC">V</text><text transform="translate(270.45 3289.9) rotate(90) scale(0.43 1)" class="cn">2</text>
<text class="g" transform="translate(327.55 3243.09) scale(32.8 11.4)" y="1" fill="#0000CC">W</text><text class="g" transform="translate(327.55 3254.49) scale(38.5 15.96)" y="1" fill="#0000CC">Y</text><text class="g" transform="translate(327.55 3271.88) scale(38.5 2.85)" y="1" fill="#FFFF00">P</text><text class="g" transform="translate(327.55 3276.15) scale(38.5 5.7)" y="1" fill="#0000CC">L</text><text transform="translate(315.55 3289.9) rotate(90) scale(0.43 1)" class="cn">3</text>
<text class="g" transform="translate(372.65 3200.05) scale(38.5 38.48)" y="1" fill="#FFB300">G</text><text class="g" transform="translate(372.65 3245.37) scale(38.5 33.91)" y="1" fill="#008000">S</text><text transform="translate(360.65 3289.9) rotate(90) scale(0.43 1)" class="cn">4</text>
<text class="g" transform="translate(417.75 3231.69) scale(32.8 19.1)" y="1" fill="#0000CC">W</text><text class="g" transform="translate(417.75 3250.78) scale(38.5 14.82)" y="1" fill="#0000CC">L</text><text class="g" transform="translate(417.75 3265.61) scale(38.5 15.96)" y="1" fill="#0000CC">A</text><text transform="translate(405.75 3289.9) rotate(90) scale(0.43 1)" class="cn">5</text>
<text class="g" transform="translate(462.85 3172.98) scale(38.5 108.59)" y="1" fill="#FFB300">G</text><text transform="translate(450.85 3289.9) rotate(90) scale(0.43 1)" class="cn">6</text>
<text class="g" transform="translate(507.95 3195.49) scale(38.5 72.39)" y="1" fill="#FFFF00">P</text><text class="g" transform="translate(507.95 3267.88) scale(38.5 9.12)" y="1" fill="#0000CC">A</text><text class="g" transform="translate(507.95 3279) scale(38.5 2.85)" y="1" fill="#FFB300">G</text><text transform="translate(495.95 3289.9) rotate(90) scale(0.43 1)" class="cn">7</text>
<text class="g" transform="translate(553.05 3206.89) scale(38.5 31.63)" y="1" fill="#0000CC">L</text><text class="g" transform="translate(553.05 3238.53) scale(38.5 27.08)" y="1" fill="#0000CC">I</text><text class="g" transform="translate(553.05 3267.03) scale(38.5 15.39)" y="1" fill="#0000CC">V</text><text transform="translate(541.05 3289.9) rotate(90) scale(0.43 1)" class="cn">8</text>
<text class="g" transform="translate(598.15 3227.7) scale(38.5 17.67)" y="1" fill="#FFB300">G</text><text class="g" transform="translate(598.15 3245.37) scale(38.5 15.67)" y="1" fill="#FFFF00">P</text><text class="g" transform="translate(598.15 3261.04) scale(38.5 18.24)" y="1" fill="#008000">T</text><text class="g" transform="translate(598.15 3279.28) scale(38.5 3.99)" y="1" fill="#0000CC">A</text><text transform="translate(586.15 3289.9) rotate(90) scale(0.43 1)" class="cn">9</text>
<text class="g" transform="translate(643.25 3185.52) scale(32.8 91.48)" y="1" fill="#0000CC">W</text><text class="g" transform="translate(643.25 3277.57) scale(38.5 4.84)" y="1" fill="#0000CC">V</text><text transform="translate(633.25 3289.1) rotate(90) scale(0.6 1)" class="cn c2">10</text>
<text class="g" transform="translate(688.35 3211.45) scale(38.5 33.91)" y="1" fill="#0000CC">L</text><text class="g" transform="translate(688.35 3246.22) scale(38.5 18.53)" y="1" fill="#0000CC">V</text><text class="g" transform="translate(688.35 3264.75) scale(38.5 16.81)" y="1" fill="#0000CC">I</text><text transform="translate(678.35 3289.1) rotate(90) scale(0.6 1)" class="cn c2">11</text>
<text class="g" transform="translate(733.45 3224.85) scale(38.5 17.1)" y="1" fill="#0000CC">V</text><text class="g" transform="translate(733.45 3241.95) scale(38.5 17.1)" y="1" fill="#0000CC">I</text><text class="g" transform="translate(733.45 3259.05) scale(38.5 11.4)" y="1" fill="#33E6CC">Y</text><text class="g" transform="translate(733.45 3270.45) scale(38.5 13.39)" y="1" fill="#0000CC">L</text><text transform="translate(723.45 3289.1) rotate(90) scale(0.6 1)" class="cn c2">12</text>
<text class="g" transform="translate(778.55 3243.94) scale(38.5 16.24)" y="1" fill="#FFFF00">P</text><text class="g" transform="translate(778.55 3260.19) scale(38.5 8.55)" y="1" fill="#008000">S</text><text class="g" transform="translate(778.55 3270.45) scale(38.5 8.55)" y="1" fill="#0000CC">A</text><text transform="translate(768.55 3289.1) rotate(90) scale(0.6 1)" class="cn c2">13</text>
<text class="g" transform="translate(823.65 3190.08) scale(38.5 82.36)" y="1" fill="#008000">S</text><text class="g" transform="translate(823.65 3273.3) scale(38.5 2.85)" y="1" fill="#FFFF00">P</text><text class="g" transform="translate(823.65 3277.57) scale(38.5 4.27)" y="1" fill="#0000CC">A</text><text transform="translate(813.65 3289.1) rotate(90) scale(0.6 1)" class="cn c2">14</text>
<text class="g" transform="translate(868.75 3172.12) scale(38.5 109.44)" y="1" fill="#FF00FF">E</text><text transform="translate(858.75 3289.1) rotate(90) scale(0.6 1)" class="cn c2">15</text>
<text class="g" transform="translate(913.85 3202.34) scale(38.5 60.99)" y="1" fill="#0000CC">I</text><text class="g" transform="translate(913.85 3264.46) scale(38.5 7.98)" y="1" fill="#008000">T</text><text class="g" transform="translate(913.85 3274.72) scale(38.5 7.12)" y="1" fill="#0000CC">V</text><text transform="translate(903.85 3289.1) rotate(90) scale(0.6 1)" class="cn c2">16</text>
<text class="g" transform="translate(958.95 3195.49) scale(38.5 73.24)" y="1" fill="#0000CC">F</text><text class="g" transform="translate(958.95 3270.45) scale(38.5 2.85)" y="1" fill="#33E6CC">Y</text><text class="g" transform="translate(958.95 3276.15) scale(38.5 5.7)" y="1" fill="#0000CC">L</text><text transform="translate(948.95 3289.1) rotate(90) scale(0.6 1)" class="cn c2">17</text>
<text class="g" transform="translate(1004.05 3190.93) scale(38.5 81.51)" y="1" fill="#FFFF00">P</text><text class="g" transform="translate(1004.05 3274.72) scale(38.5 7.12)" y="1" fill="#0000CC">L</text><text transform="translate(994.05 3289.1) rotate(90) scale(0.6 1)" class="cn c2">18</text>
<text class="g" transform="translate(1049.15 3211.45) scale(38.5 51.87)" y="1" fill="#0000CC">L</text><text class="g" transform="translate(1049.15 3264.75) scale(38.5 8.55)" y="1" fill="#0000CC">V</text><text class="g" transform="translate(1049.15 3277.57) scale(38.5 2.85)" y="1" fill="#FF00FF">E</text><text transform="translate(1039.15 3289.1) rotate(90) scale(0.6 1)" class="cn c2">19</text>
<text class="g" transform="translate(1094.25 3230.84) scale(38.5 16.81)" y="1" fill="#FF00FF">E</text><text class="g" transform="translate(1094.25 3249.07) scale(38.5 19.66)" y="1" fill="#CC0000">R</text><text class="g" transform="translate(1094.25 3270.45) scale(38.5 11.4)" y="1" fill="#008000">N</text><text transform="translate(1084.25 3289.1) rotate(90) scale(0.6 1)" class="cn c2">20</text>
<text class="g" transform="translate(1139.35 3238.53) scale(38.5 13.68)" y="1" fill="#0000CC">L</text><text class="g" transform="translate(1139.35 3250.78) scale(38.5 14.82)" y="1" fill="#0000CC">I</text><text class="g" transform="translate(1139.35 3265.61) scale(38.5 6.84)" y="1" fill="#008000">T</text><text class="g" transform="translate(1139.35 3273.3) scale(38.5 8.55)" y="1" fill="#0000CC">A</text><text transform="translate(1129.35 3289.1) rotate(90) scale(0.6 1)" class="cn c2">21</text>
<text class="g" transform="translate(1184.45 3188.65) scale(38.5 90.63)" y="1" fill="#CC0000">R</text><text transform="translate(1174.45 3289.1) rotate(90) scale(0.6 1)" class="cn c2">22</text>
<text class="g" transform="translate(1229.55 3218.29) scale(38.5 20.23)" y="1" fill="#008000">S</text><text class="g" transform="translate(1229.55 3240.81) scale(38.5 22.52)" y="1" fill="#0000CC">A</text><text class="g" transform="translate(1229.55 3265.61) scale(38.5 13.68)" y="1" fill="#FFB300">G</text><text transform="translate(1219.55 3289.1) rotate(90) scale(0.6 1)" class="cn c2">23</text>
<text class="g" transform="translate(1274.65 3233.97) scale(38.5 20.52)" y="1" fill="#0000CC">A</text><text class="g" transform="translate(1274.65 3254.49) scale(38.5 14.25)" y="1" fill="#008000">Q</text><text class="g" transform="translate(1274.65 3268.74) scale(38.5 7.41)" y="1" fill="#008000">T</text><text class="g" transform="translate(1274.65 3276.15) scale(38.5 5.7)" y="1" fill="#CC0000">R</text><text transform="translate(1264.65 3289.1) rotate(90) scale(0.6 1)" class="cn c2">24</text>
<text class="g" transform="translate(1319.75 3203.76) scale(38.5 45.31)" y="1" fill="#FFB300">G</text><text class="g" transform="translate(1319.75 3252.21) scale(38.5 29.35)" y="1" fill="#0000CC">A</text><text transform="translate(1309.75 3289.1) rotate(90) scale(0.6 1)" class="cn c2">25</text>
<text class="g" transform="translate(1364.85 3247.65) scale(38.5 11.4)" y="1" fill="#008000">Q</text><text class="g" transform="translate(1364.85 3259.05) scale(38.5 6.55)" y="1" fill="#FFB300">G</text><text class="g" transform="translate(1364.85 3265.61) scale(38.5 7.7)" y="1" fill="#008000">S</text><text class="g" transform="translate(1364.85 3273.3) scale(38.5 8.55)" y="1" fill="#0000CC">A</text><text transform="translate(1354.85 3289.1) rotate(90) scale(0.6 1)" class="cn c2">26</text>
<text class="g" transform="translate(1409.95 3197.77) scale(38.5 57.57)" y="1" fill="#008000">S</text><text class="g" transform="translate(1409.95 3261.04) scale(38.5 18.24)" y="1" fill="#0000CC">A</text><text class="g" transform="translate(1409.95 3280.42) scale(38.5 2.85)" y="1" fill="#FFB300">G</text><text transform="translate(1399.95 3289.1) rotate(90) scale(0.6 1)" class="cn c2">27</text>
<text class="g" transform="translate(1455.05 3220.57) scale(38.5 27.07)" y="1" fill="#0000CC">I</text><text class="g" transform="translate(1455.05 3247.65) scale(38.5 17.96)" y="1" fill="#0000CC">L</text><text class="g" transform="translate(1455.05 3265.61) scale(38.5 15.96)" y="1" fill="#0000CC">M</text><text transform="translate(1445.05 3289.1) rotate(90) scale(0.6 1)" class="cn c2">28</text>
<text class="g" transform="translate(1500.15 3236.25) scale(38.5 9.97)" y="1" fill="#FFB300">G</text><text class="g" transform="translate(1500.15 3249.93) scale(38.5 13.39)" y="1" fill="#0000CC">A</text><text class="g" transform="translate(1500.15 3265.61) scale(38.5 11.4)" y="1" fill="#008000">T</text><text class="g" transform="translate(1500.15 3277) scale(38.5 6.84)" y="1" fill="#0000CC">V</text><text transform="translate(1490.15 3289.1) rotate(90) scale(0.6 1)" class="cn c2">29</text></g>
<g><path d="M212.2 3317.98V3441.7" stroke="#000" stroke-width="3.2" fill="none"/><path d="M206.6 3440.1H212.2" stroke="#000" stroke-width="3.2" fill="none"/><text transform="translate(202.7 3446.7) scale(1.12 1)" class="tk">0</text><path d="M206.6 3411.7H212.2" stroke="#000" stroke-width="3.2" fill="none"/><text transform="translate(202.7 3418.3) scale(1.12 1)" class="tk">1</text><path d="M206.6 3383.3H212.2" stroke="#000" stroke-width="3.2" fill="none"/><text transform="translate(202.7 3389.9) scale(1.12 1)" class="tk">2</text><path d="M206.6 3354.9H212.2" stroke="#000" stroke-width="3.2" fill="none"/><text transform="translate(202.7 3361.5) scale(1.12 1)" class="tk">3</text><path d="M206.6 3326.5H212.2" stroke="#000" stroke-width="3.2" fill="none"/><text transform="translate(202.7 3333.1) scale(1.12 1)" class="tk">4</text><text transform="translate(184.5 3379.89) rotate(-90)" class="bt">bits</text>
<text class="g" transform="translate(237.35 3382.16) scale(38.5 22.72)" y="1" fill="#0000CC">I</text><text class="g" transform="translate(237.35 3404.88) scale(38.5 18.18)" y="1" fill="#0000CC">L</text><text class="g" transform="translate(237.35 3427.32) scale(38.5 11.36)" y="1" fill="#0000CC">M</text><text transform="translate(225.35 3445.3) rotate(90) scale(0.43 1)" class="cn">1</text>
<text class="g" transform="translate(282.45 3407.16) scale(38.5 9.09)" y="1" fill="#FFFF00">P</text><text class="g" transform="translate(282.45 3416.24) scale(38.5 8.8)" y="1" fill="#008000">S</text><text class="g" transform="translate(282.45 3428.74) scale(38.5 7.1)" y="1" fill="#0000CC">A</text><text transform="translate(270.45 3445.3) rotate(90) scale(0.43 1)" class="cn">2</text>
<text class="g" transform="translate(327.55 3395.8) scale(38.5 18.18)" y="1" fill="#0000CC">F</text><text class="g" transform="translate(327.55 3413.97) scale(38.5 22.44)" y="1" fill="#0000CC">V</text><text transform="translate(315.55 3445.3) rotate(90) scale(0.43 1)" class="cn">3</text>
<text class="g" transform="translate(372.65 3366.26) scale(38.5 65.6)" y="1" fill="#0000CC">F</text><text class="g" transform="translate(372.65 3433) scale(38.5 4.83)" y="1" fill="#0000CC">L</text><text transform="translate(360.65 3445.3) rotate(90) scale(0.43 1)" class="cn">4</text>
<text class="g" transform="translate(417.75 3359.44) scale(38.5 64.47)" y="1" fill="#008000">Q</text><text class="g" transform="translate(417.75 3425.05) scale(38.5 6.82)" y="1" fill="#FF00FF">E</text><text class="g" transform="translate(417.75 3433) scale(38.5 4.83)" y="1" fill="#0000CC">L</text><text transform="translate(405.75 3445.3) rotate(90) scale(0.43 1)" class="cn">5</text>
<text class="g" transform="translate(462.85 3352.63) scale(38.5 72.42)" y="1" fill="#008000">Q</text><text class="g" transform="translate(462.85 3428.74) scale(38.5 5.68)" y="1" fill="#0000CC">A</text><text class="g" transform="translate(462.85 3435.84) scale(38.5 2.84)" y="1" fill="#FF00FF">D</text><text transform="translate(450.85 3445.3) rotate(90) scale(0.43 1)" class="cn">6</text>
<text class="g" transform="translate(507.95 3395.8) scale(38.5 15.9)" y="1" fill="#0000CC">L</text><text class="g" transform="translate(507.95 3411.7) scale(38.5 13.35)" y="1" fill="#0000CC">I</text><text class="g" transform="translate(507.95 3427.32) scale(38.5 11.36)" y="1" fill="#0000CC">A</text><text transform="translate(495.95 3445.3) rotate(90) scale(0.43 1)" class="cn">7</text>
<text class="g" transform="translate(553.05 3377.62) scale(38.5 31.81)" y="1" fill="#008000">T</text><text class="g" transform="translate(553.05 3411.7) scale(38.5 13.35)" y="1" fill="#008000">S</text><text class="g" transform="translate(553.05 3427.32) scale(38.5 4.26)" y="1" fill="#FFB300">G</text><text class="g" transform="translate(553.05 3433) scale(38.5 5.68)" y="1" fill="#0000CC">A</text><text transform="translate(541.05 3445.3) rotate(90) scale(0.43 1)" class="cn">8</text>
<text class="g" transform="translate(598.15 3342.4) scale(38.5 88.61)" y="1" fill="#FFB300">G</text><text class="g" transform="translate(598.15 3433) scale(38.5 4.83)" y="1" fill="#0000CC">A</text><text transform="translate(586.15 3445.3) rotate(90) scale(0.43 1)" class="cn">9</text>
<text class="g" transform="translate(643.25 3370.8) scale(38.5 47.71)" y="1" fill="#0000CC">I</text><text class="g" transform="translate(643.25 3418.52) scale(38.5 17.89)" y="1" fill="#0000CC">A</text><text transform="translate(633.25 3444.5) rotate(90) scale(0.6 1)" class="cn c2">10</text>
<text class="g" transform="translate(688.35 3366.26) scale(38.5 49.98)" y="1" fill="#008000">N</text><text class="g" transform="translate(688.35 3416.24) scale(38.5 15.62)" y="1" fill="#FF00FF">D</text><text class="g" transform="translate(688.35 3433) scale(38.5 4.26)" y="1" fill="#FFFF00">P</text><text transform="translate(678.35 3444.5) rotate(90) scale(0.6 1)" class="cn c2">11</text>
<text class="g" transform="translate(733.45 3395.8) scale(38.5 14.48)" y="1" fill="#0000CC">A</text><text class="g" transform="translate(733.45 3410.28) scale(38.5 12.78)" y="1" fill="#008000">S</text><text class="g" transform="translate(733.45 3425.9) scale(38.5 3.41)" y="1" fill="#FFB300">G</text><text class="g" transform="translate(733.45 3429.88) scale(38.5 8.8)" y="1" fill="#008000">T</text><text transform="translate(723.45 3444.5) rotate(90) scale(0.6 1)" class="cn c2">12</text>
<text class="g" transform="translate(778.55 3364.84) scale(38.5 30.96)" y="1" fill="#0000CC">V</text><text class="g" transform="translate(778.55 3395.8) scale(38.5 38.34)" y="1" fill="#0000CC">I</text><text class="g" transform="translate(778.55 3435.84) scale(38.5 2.84)" y="1" fill="#008000">S</text><text transform="translate(768.55 3444.5) rotate(90) scale(0.6 1)" class="cn c2">13</text>
<text class="g" transform="translate(823.65 3400.34) scale(38.5 11.36)" y="1" fill="#0000CC">V</text><text class="g" transform="translate(823.65 3411.7) scale(38.5 22.44)" y="1" fill="#0000CC">L</text><text class="g" transform="translate(823.65 3435.84) scale(38.5 2.84)" y="1" fill="#008000">S</text><text transform="translate(813.65 3444.5) rotate(90) scale(0.6 1)" class="cn c2">14</text>
<text class="g" transform="translate(868.75 3375.35) scale(38.5 27.26)" y="1" fill="#0000CC">F</text><text class="g" transform="translate(868.75 3404.88) scale(38.5 19.03)" y="1" fill="#33E6CC">Y</text><text class="g" transform="translate(868.75 3425.05) scale(38.5 9.09)" y="1" fill="#0000CC">I</text><text transform="translate(858.75 3444.5) rotate(90) scale(0.6 1)" class="cn c2">15</text>
<text class="g" transform="translate(913.85 3337.86) scale(38.5 94)" y="1" fill="#33E6CC">Y</text><text class="g" transform="translate(913.85 3434.42) scale(38.5 3.41)" y="1" fill="#0000CC">A</text><text transform="translate(903.85 3444.5) rotate(90) scale(0.6 1)" class="cn c2">16</text>
<text class="g" transform="translate(958.95 3384.44) scale(38.5 22.72)" y="1" fill="#0000CC">A</text><text class="g" transform="translate(958.95 3408.29) scale(38.5 19.03)" y="1" fill="#008000">S</text><text class="g" transform="translate(958.95 3428.74) scale(38.5 2.84)" y="1" fill="#FFFF00">P</text><text class="g" transform="translate(958.95 3433) scale(38.5 5.68)" y="1" fill="#0000CC">L</text><text transform="translate(948.95 3444.5) rotate(90) scale(0.6 1)" class="cn c2">17</text>
<text class="g" transform="translate(1004.05 3368.53) scale(38.5 47.71)" y="1" fill="#FFFF00">P</text><text class="g" transform="translate(1004.05 3418.52) scale(38.5 8.8)" y="1" fill="#008000">S</text><text class="g" transform="translate(1004.05 3427.32) scale(38.5 11.36)" y="1" fill="#0000CC">L</text><text transform="translate(994.05 3444.5) rotate(90) scale(0.6 1)" class="cn c2">18</text>
<text class="g" transform="translate(1049.15 3407.16) scale(38.5 11.36)" y="1" fill="#0000CC">V</text><text class="g" transform="translate(1049.15 3418.52) scale(38.5 4.54)" y="1" fill="#CC0000">R</text><text class="g" transform="translate(1049.15 3423.06) scale(38.5 4.26)" y="1" fill="#008000">S</text><text class="g" transform="translate(1049.15 3428.74) scale(38.5 5.68)" y="1" fill="#CC0000">K</text><text transform="translate(1039.15 3444.5) rotate(90) scale(0.6 1)" class="cn c2">19</text>
<text class="g" transform="translate(1094.25 3366.26) scale(38.5 36.35)" y="1" fill="#0000CC">I</text><text class="g" transform="translate(1094.25 3402.61) scale(38.5 33.8)" y="1" fill="#0000CC">L</text><text transform="translate(1084.25 3444.5) rotate(90) scale(0.6 1)" class="cn c2">20</text>
<text class="g" transform="translate(1139.35 3350.64) scale(38.5 51.97)" y="1" fill="#0000CC">F</text><text class="g" transform="translate(1139.35 3402.61) scale(38.5 31.52)" y="1" fill="#0000CC">L</text><text transform="translate(1129.35 3444.5) rotate(90) scale(0.6 1)" class="cn c2">21</text>
<text class="g" transform="translate(1184.45 3406.02) scale(38.5 10.22)" y="1" fill="#008000">Q</text><text class="g" transform="translate(1184.45 3418.52) scale(38.5 11.08)" y="1" fill="#CC0000">R</text><text class="g" transform="translate(1184.45 3429.59) scale(38.5 6.82)" y="1" fill="#FF00FF">E</text><text transform="translate(1174.45 3444.5) rotate(90) scale(0.6 1)" class="cn c2">22</text>
<text class="g" transform="translate(1229.55 3402.61) scale(38.5 18.18)" y="1" fill="#008000">T</text><text class="g" transform="translate(1229.55 3423.06) scale(38.5 4.26)" y="1" fill="#FF00FF">E</text><text class="g" transform="translate(1229.55 3427.32) scale(38.5 4.26)" y="1" fill="#CC0000">R</text><text class="g" transform="translate(1229.55 3431.58) scale(38.5 5.68)" y="1" fill="#0000CC">A</text><text transform="translate(1219.55 3444.5) rotate(90) scale(0.6 1)" class="cn c2">23</text>
<text class="g" transform="translate(1274.65 3386.71) scale(38.5 29.54)" y="1" fill="#0000CC">A</text><text class="g" transform="translate(1274.65 3423.91) scale(38.5 14.77)" y="1" fill="#0000CC">V</text><text transform="translate(1264.65 3444.5) rotate(90) scale(0.6 1)" class="cn c2">24</text>
<text class="g" transform="translate(1319.75 3334.74) scale(38.5 97.13)" y="1" fill="#FFB300">G</text><text class="g" transform="translate(1319.75 3433) scale(38.5 5.68)" y="1" fill="#0000CC">V</text><text transform="translate(1309.75 3444.5) rotate(90) scale(0.6 1)" class="cn c2">25</text>
<text class="g" transform="translate(1364.85 3375.35) scale(38.5 28.68)" y="1" fill="#0000CC">F</text><text class="g" transform="translate(1364.85 3404.88) scale(38.5 22.44)" y="1" fill="#0000CC">I</text><text class="g" transform="translate(1364.85 3428.74) scale(38.5 8.52)" y="1" fill="#0000CC">L</text><text transform="translate(1354.85 3444.5) rotate(90) scale(0.6 1)" class="cn c2">26</text>
<text class="g" transform="translate(1409.95 3402.61) scale(38.5 11.36)" y="1" fill="#FFB300">G</text><text class="g" transform="translate(1409.95 3413.97) scale(38.5 11.93)" y="1" fill="#008000">S</text><text class="g" transform="translate(1409.95 3425.9) scale(38.5 8.52)" y="1" fill="#CC0000">R</text><text transform="translate(1399.95 3444.5) rotate(90) scale(0.6 1)" class="cn c2">27</text>
<text class="g" transform="translate(1455.05 3402.61) scale(38.5 13.63)" y="1" fill="#008000">S</text><text class="g" transform="translate(1455.05 3416.24) scale(38.5 6.82)" y="1" fill="#FFB300">G</text><text class="g" transform="translate(1455.05 3424.48) scale(38.5 11.93)" y="1" fill="#FF00FF">D</text><text transform="translate(1445.05 3444.5) rotate(90) scale(0.6 1)" class="cn c2">28</text>
<text class="g" transform="translate(1500.15 3411.7) scale(38.5 6.82)" y="1" fill="#FF00FF">D</text><text class="g" transform="translate(1500.15 3418.52) scale(38.5 8.8)" y="1" fill="#008000">N</text><text class="g" transform="translate(1500.15 3427.32) scale(38.5 7.1)" y="1" fill="#CC0000">R</text><text transform="translate(1490.15 3444.5) rotate(90) scale(0.6 1)" class="cn c2">29</text></g>
<g><path d="M212.2 3474.3V3596.3" stroke="#000" stroke-width="3.2" fill="none"/><path d="M206.6 3594.7H212.2" stroke="#000" stroke-width="3.2" fill="none"/><text transform="translate(202.7 3601.3) scale(1.12 1)" class="tk">0</text><path d="M206.6 3566.7H212.2" stroke="#000" stroke-width="3.2" fill="none"/><text transform="translate(202.7 3573.3) scale(1.12 1)" class="tk">1</text><path d="M206.6 3538.7H212.2" stroke="#000" stroke-width="3.2" fill="none"/><text transform="translate(202.7 3545.3) scale(1.12 1)" class="tk">2</text><path d="M206.6 3510.7H212.2" stroke="#000" stroke-width="3.2" fill="none"/><text transform="translate(202.7 3517.3) scale(1.12 1)" class="tk">3</text><path d="M206.6 3482.7H212.2" stroke="#000" stroke-width="3.2" fill="none"/><text transform="translate(202.7 3489.3) scale(1.12 1)" class="tk">4</text><text transform="translate(184.5 3535.34) rotate(-90)" class="bt">bits</text>
<text class="g" transform="translate(237.35 3539.26) scale(38.5 19.6)" y="1" fill="#0000CC">L</text><text class="g" transform="translate(237.35 3559.7) scale(38.5 13.72)" y="1" fill="#0000CC">M</text><text class="g" transform="translate(237.35 3580.14) scale(38.5 8.96)" y="1" fill="#0000CC">V</text><text class="g" transform="translate(237.35 3589.1) scale(38.5 4.2)" y="1" fill="#008000">T</text><text transform="translate(225.35 3599.9) rotate(90) scale(0.43 1)" class="cn">1</text>
<text class="g" transform="translate(282.45 3513.5) scale(38.5 62.16)" y="1" fill="#FFFF00">P</text><text class="g" transform="translate(282.45 3577.9) scale(38.5 8.96)" y="1" fill="#0000CC">V</text><text class="g" transform="translate(282.45 3589.1) scale(38.5 3.36)" y="1" fill="#FFB300">G</text><text transform="translate(270.45 3599.9) rotate(90) scale(0.43 1)" class="cn">2</text>
<text class="g" transform="translate(327.55 3507.9) scale(38.5 54.04)" y="1" fill="#FF00FF">E</text><text class="g" transform="translate(327.55 3571.18) scale(38.5 20.44)" y="1" fill="#FF00FF">D</text><text transform="translate(315.55 3599.9) rotate(90) scale(0.43 1)" class="cn">3</text>
<text class="g" transform="translate(372.65 3512.1) scale(38.5 49.84)" y="1" fill="#008000">S</text><text class="g" transform="translate(372.65 3565.3) scale(38.5 25.2)" y="1" fill="#008000">T</text><text class="g" transform="translate(372.65 3591.9) scale(38.5 1.96)" y="1" fill="#FFB3B3">H</text><text transform="translate(360.65 3599.9) rotate(90) scale(0.43 1)" class="cn">4</text>
<text class="g" transform="translate(417.75 3487.18) scale(38.5 104.44)" y="1" fill="#FFFF00">P</text><text transform="translate(405.75 3599.9) rotate(90) scale(0.43 1)" class="cn">5</text>
<text class="g" transform="translate(462.85 3514.34) scale(38.5 46.48)" y="1" fill="#CC0000">R</text><text class="g" transform="translate(462.85 3561.94) scale(38.5 29.68)" y="1" fill="#008000">N</text><text transform="translate(450.85 3599.9) rotate(90) scale(0.43 1)" class="cn">6</text>
<text class="g" transform="translate(507.95 3505.38) scale(32.8 52.08)" y="1" fill="#0000CC">W</text><text class="g" transform="translate(507.95 3559.7) scale(38.5 31.92)" y="1" fill="#008000">S</text><text transform="translate(495.95 3599.9) rotate(90) scale(0.43 1)" class="cn">7</text>
<text class="g" transform="translate(553.05 3500.06) scale(38.5 81.48)" y="1" fill="#0000CC">L</text><text class="g" transform="translate(553.05 3583.5) scale(38.5 8.4)" y="1" fill="#0000CC">A</text><text transform="translate(541.05 3599.9) rotate(90) scale(0.43 1)" class="cn">8</text>
<text class="g" transform="translate(598.15 3536.18) scale(38.5 19.32)" y="1" fill="#0000CC">V</text><text class="g" transform="translate(598.15 3555.5) scale(38.5 17.92)" y="1" fill="#0000CC">I</text><text class="g" transform="translate(598.15 3577.9) scale(38.5 10.08)" y="1" fill="#0000CC">F</text><text class="g" transform="translate(598.15 3590.5) scale(38.5 2.8)" y="1" fill="#33E6CC">Y</text><text transform="translate(586.15 3599.9) rotate(90) scale(0.43 1)" class="cn">9</text>
<text class="g" transform="translate(643.25 3557.46) scale(38.5 9.24)" y="1" fill="#FF00FF">E</text><text class="g" transform="translate(643.25 3568.94) scale(38.5 9.8)" y="1" fill="#0000CC">M</text><text class="g" transform="translate(643.25 3578.74) scale(38.5 8.12)" y="1" fill="#008000">S</text><text class="g" transform="translate(643.25 3589.1) scale(38.5 2.8)" y="1" fill="#FF00FF">E</text><text transform="translate(633.25 3599.1) rotate(90) scale(0.6 1)" class="cn c2">10</text>
<text class="g" transform="translate(688.35 3547.1) scale(38.5 17.36)" y="1" fill="#CC0000">R</text><text class="g" transform="translate(688.35 3565.3) scale(38.5 13.44)" y="1" fill="#008000">Q</text><text class="g" transform="translate(688.35 3578.74) scale(38.5 7.56)" y="1" fill="#CC0000">K</text><text class="g" transform="translate(688.35 3586.3) scale(38.5 5.6)" y="1" fill="#0000CC">A</text><text transform="translate(678.35 3599.1) rotate(90) scale(0.6 1)" class="cn c2">11</text>
<text class="g" transform="translate(733.45 3505.38) scale(38.5 68.88)" y="1" fill="#FFB300">G</text><text class="g" transform="translate(733.45 3577.06) scale(38.5 13.44)" y="1" fill="#008000">N</text><text transform="translate(723.45 3599.1) rotate(90) scale(0.6 1)" class="cn c2">12</text>
<text class="g" transform="translate(778.55 3550.74) scale(38.5 24.92)" y="1" fill="#CC0000">R</text><text class="g" transform="translate(778.55 3580.14) scale(38.5 6.16)" y="1" fill="#0000CC">A</text><text class="g" transform="translate(778.55 3586.3) scale(38.5 4.2)" y="1" fill="#008000">S</text><text transform="translate(768.55 3599.1) rotate(90) scale(0.6 1)" class="cn c2">13</text>
<text class="g" transform="translate(823.65 3566.7) scale(38.5 13.44)" y="1" fill="#0000CC">L</text><text class="g" transform="translate(823.65 3583.5) scale(38.5 5.6)" y="1" fill="#0000CC">A</text><text transform="translate(813.65 3599.1) rotate(90) scale(0.6 1)" class="cn c2">14</text>
<text class="g" transform="translate(868.75 3557.46) scale(38.5 15.96)" y="1" fill="#FF00FF">E</text><text class="g" transform="translate(868.75 3575.66) scale(38.5 5.88)" y="1" fill="#FFB300">G</text><text class="g" transform="translate(868.75 3583.5) scale(38.5 7)" y="1" fill="#0000CC">A</text><text transform="translate(858.75 3599.1) rotate(90) scale(0.6 1)" class="cn c2">15</text>
<text class="g" transform="translate(913.85 3528.9) scale(38.5 37.8)" y="1" fill="#FF00FF">E</text><text class="g" transform="translate(913.85 3568.94) scale(38.5 20.44)" y="1" fill="#CC0000">R</text><text transform="translate(903.85 3599.1) rotate(90) scale(0.6 1)" class="cn c2">16</text>
<text class="g" transform="translate(958.95 3513.5) scale(38.5 57.68)" y="1" fill="#0000CC">A</text><text class="g" transform="translate(958.95 3571.18) scale(38.5 15.68)" y="1" fill="#FFB300">G</text><text class="g" transform="translate(958.95 3589.1) scale(38.5 4.2)" y="1" fill="#0000CC">L</text><text transform="translate(948.95 3599.1) rotate(90) scale(0.6 1)" class="cn c2">17</text>
<text class="g" transform="translate(1004.05 3537.02) scale(38.5 24.92)" y="1" fill="#CC0000">K</text><text class="g" transform="translate(1004.05 3561.94) scale(38.5 15.96)" y="1" fill="#CC0000">R</text><text class="g" transform="translate(1004.05 3577.9) scale(38.5 8.96)" y="1" fill="#FF00FF">E</text><text transform="translate(994.05 3599.1) rotate(90) scale(0.6 1)" class="cn c2">18</text>
<text class="g" transform="translate(1049.15 3561.94) scale(38.5 9.24)" y="1" fill="#CC0000">K</text><text class="g" transform="translate(1049.15 3571.18) scale(38.5 7.56)" y="1" fill="#0000CC">A</text><text class="g" transform="translate(1049.15 3578.74) scale(38.5 10.64)" y="1" fill="#008000">S</text><text transform="translate(1039.15 3599.1) rotate(90) scale(0.6 1)" class="cn c2">19</text>
<text class="g" transform="translate(1094.25 3548.5) scale(38.5 22.68)" y="1" fill="#0000CC">V</text><text class="g" transform="translate(1094.25 3571.18) scale(38.5 11.2)" y="1" fill="#0000CC">L</text><text class="g" transform="translate(1094.25 3583.5) scale(38.5 4.2)" y="1" fill="#008000">S</text><text class="g" transform="translate(1094.25 3587.7) scale(38.5 4.2)" y="1" fill="#CC0000">R</text><text transform="translate(1084.25 3599.1) rotate(90) scale(0.6 1)" class="cn c2">20</text>
<text class="g" transform="translate(1139.35 3503.14) scale(38.5 79.24)" y="1" fill="#0000CC">L</text><text class="g" transform="translate(1139.35 3584.9) scale(38.5 7)" y="1" fill="#0000CC">V</text><text transform="translate(1129.35 3599.1) rotate(90) scale(0.6 1)" class="cn c2">21</text>
<text class="g" transform="translate(1184.45 3561.1) scale(38.5 10.08)" y="1" fill="#008000">Q</text><text class="g" transform="translate(1184.45 3571.18) scale(38.5 7.56)" y="1" fill="#CC0000">R</text><text class="g" transform="translate(1184.45 3578.74) scale(38.5 5.88)" y="1" fill="#FF00FF">E</text><text class="g" transform="translate(1184.45 3586.3) scale(38.5 5.6)" y="1" fill="#008000">S</text><text transform="translate(1174.45 3599.1) rotate(90) scale(0.6 1)" class="cn c2">22</text>
<text class="g" transform="translate(1229.55 3537.02) scale(38.5 24.92)" y="1" fill="#CC0000">K</text><text class="g" transform="translate(1229.55 3561.94) scale(38.5 19.6)" y="1" fill="#CC0000">R</text><text class="g" transform="translate(1229.55 3583.5) scale(38.5 5.6)" y="1" fill="#008000">S</text><text transform="translate(1219.55 3599.1) rotate(90) scale(0.6 1)" class="cn c2">23</text>
<text class="g" transform="translate(1274.65 3525.82) scale(38.5 31.64)" y="1" fill="#0000CC">I</text><text class="g" transform="translate(1274.65 3557.46) scale(38.5 13.72)" y="1" fill="#008000">T</text><text class="g" transform="translate(1274.65 3575.66) scale(38.5 18.2)" y="1" fill="#0000CC">L</text><text transform="translate(1264.65 3599.1) rotate(90) scale(0.6 1)" class="cn c2">24</text>
<text class="g" transform="translate(1319.75 3530.3) scale(38.5 35)" y="1" fill="#CC0000">R</text><text class="g" transform="translate(1319.75 3566.7) scale(38.5 8.96)" y="1" fill="#008000">S</text><text class="g" transform="translate(1319.75 3577.06) scale(38.5 7.56)" y="1" fill="#33E6CC">Y</text><text class="g" transform="translate(1319.75 3586.86) scale(38.5 7)" y="1" fill="#008000">T</text><text transform="translate(1309.75 3599.1) rotate(90) scale(0.6 1)" class="cn c2">25</text>
<text class="g" transform="translate(1364.85 3528.06) scale(38.5 43.12)" y="1" fill="#FFB300">G</text><text class="g" transform="translate(1364.85 3572.3) scale(38.5 7.84)" y="1" fill="#FF00FF">E</text><text class="g" transform="translate(1364.85 3582.1) scale(38.5 4.2)" y="1" fill="#0000CC">A</text><text class="g" transform="translate(1364.85 3586.3) scale(38.5 5.6)" y="1" fill="#008000">S</text><text transform="translate(1354.85 3599.1) rotate(90) scale(0.6 1)" class="cn c2">26</text>
<text class="g" transform="translate(1409.95 3564.46) scale(38.5 7.84)" y="1" fill="#008000">S</text><text class="g" transform="translate(1409.95 3572.3) scale(38.5 12.32)" y="1" fill="#0000CC">A</text><text class="g" transform="translate(1409.95 3586.3) scale(38.5 4.2)" y="1" fill="#FF00FF">E</text><text transform="translate(1399.95 3599.1) rotate(90) scale(0.6 1)" class="cn c2">27</text>
<text class="g" transform="translate(1455.05 3548.5) scale(38.5 24.92)" y="1" fill="#FF00FF">E</text><text class="g" transform="translate(1455.05 3573.42) scale(38.5 11.2)" y="1" fill="#CC0000">R</text><text class="g" transform="translate(1455.05 3586.3) scale(38.5 5.6)" y="1" fill="#0000CC">A</text><text transform="translate(1445.05 3599.1) rotate(90) scale(0.6 1)" class="cn c2">28</text>
<text class="g" transform="translate(1500.15 3557.46) scale(38.5 9.24)" y="1" fill="#FF00FF">E</text><text class="g" transform="translate(1500.15 3566.7) scale(38.5 10.36)" y="1" fill="#008000">S</text><text class="g" transform="translate(1500.15 3577.06) scale(38.5 7.56)" y="1" fill="#FF00FF">E</text><text class="g" transform="translate(1500.15 3586.86) scale(38.5 5.6)" y="1" fill="#008000">N</text><text transform="translate(1490.15 3599.1) rotate(90) scale(0.6 1)" class="cn c2">29</text></g>
<g><path d="M212.2 3629.41V3752.7" stroke="#000" stroke-width="3.2" fill="none"/><path d="M206.6 3751.1H212.2" stroke="#000" stroke-width="3.2" fill="none"/><text transform="translate(202.7 3757.7) scale(1.12 1)" class="tk">0</text><path d="M206.6 3722.8H212.2" stroke="#000" stroke-width="3.2" fill="none"/><text transform="translate(202.7 3729.4) scale(1.12 1)" class="tk">1</text><path d="M206.6 3694.5H212.2" stroke="#000" stroke-width="3.2" fill="none"/><text transform="translate(202.7 3701.1) scale(1.12 1)" class="tk">2</text><path d="M206.6 3666.2H212.2" stroke="#000" stroke-width="3.2" fill="none"/><text transform="translate(202.7 3672.8) scale(1.12 1)" class="tk">3</text><path d="M206.6 3637.9H212.2" stroke="#000" stroke-width="3.2" fill="none"/><text transform="translate(202.7 3644.5) scale(1.12 1)" class="tk">4</text><text transform="translate(184.5 3691.1) rotate(-90)" class="bt">bits</text>
<text class="g" transform="translate(237.35 3689.41) scale(38.5 22.64)" y="1" fill="#0000CC">M</text><text class="g" transform="translate(237.35 3712.05) scale(38.5 18.11)" y="1" fill="#0000CC">A</text><text class="g" transform="translate(237.35 3730.72) scale(38.5 7.36)" y="1" fill="#008000">T</text><text class="g" transform="translate(237.35 3744.03) scale(38.5 2.83)" y="1" fill="#FFB300">G</text><text transform="translate(225.35 3756.3) rotate(90) scale(0.43 1)" class="cn">1</text>
<text class="g" transform="translate(282.45 3716.01) scale(38.5 6.23)" y="1" fill="#008000">T</text><text class="g" transform="translate(282.45 3722.23) scale(38.5 11.89)" y="1" fill="#0000CC">V</text><text class="g" transform="translate(282.45 3734.12) scale(38.5 11.89)" y="1" fill="#0000CC">A</text><text transform="translate(270.45 3756.3) rotate(90) scale(0.43 1)" class="cn">2</text>
<text class="g" transform="translate(327.55 3696.2) scale(38.5 22.64)" y="1" fill="#0000CC">V</text><text class="g" transform="translate(327.55 3718.84) scale(38.5 17.26)" y="1" fill="#0000CC">I</text><text class="g" transform="translate(327.55 3740.06) scale(38.5 5.94)" y="1" fill="#0000CC">L</text><text transform="translate(315.55 3756.3) rotate(90) scale(0.43 1)" class="cn">3</text>
<text class="g" transform="translate(372.65 3654.6) scale(38.5 85.47)" y="1" fill="#0000CC">F</text><text class="g" transform="translate(372.65 3741.19) scale(38.5 6.79)" y="1" fill="#33E6CC">Y</text><text transform="translate(360.65 3756.3) rotate(90) scale(0.43 1)" class="cn">4</text>
<text class="g" transform="translate(417.75 3690.26) scale(38.5 25.75)" y="1" fill="#0000CC">V</text><text class="g" transform="translate(417.75 3716.01) scale(38.5 20.09)" y="1" fill="#0000CC">I</text><text class="g" transform="translate(417.75 3736.1) scale(38.5 7.92)" y="1" fill="#0000CC">L</text><text transform="translate(405.75 3756.3) rotate(90) scale(0.43 1)" class="cn">5</text>
<text class="g" transform="translate(462.85 3709.5) scale(38.5 14.72)" y="1" fill="#33E6CC">Y</text><text class="g" transform="translate(462.85 3726.2) scale(38.5 7.92)" y="1" fill="#0000CC">F</text><text class="g" transform="translate(462.85 3736.95) scale(38.5 8.49)" y="1" fill="#0000CC">L</text><text transform="translate(450.85 3756.3) rotate(90) scale(0.43 1)" class="cn">6</text>
<text class="g" transform="translate(507.95 3714.31) scale(38.5 17.83)" y="1" fill="#0000CC">F</text><text class="g" transform="translate(507.95 3733.27) scale(38.5 6.79)" y="1" fill="#008000">T</text><text class="g" transform="translate(507.95 3742.61) scale(38.5 5.66)" y="1" fill="#0000CC">A</text><text transform="translate(495.95 3756.3) rotate(90) scale(0.43 1)" class="cn">7</text>
<text class="g" transform="translate(553.05 3708.65) scale(38.5 25.47)" y="1" fill="#0000CC">L</text><text class="g" transform="translate(553.05 3736.95) scale(38.5 5.66)" y="1" fill="#0000CC">I</text><text class="g" transform="translate(553.05 3744.03) scale(38.5 2.83)" y="1" fill="#CC0000">R</text><text transform="translate(541.05 3756.3) rotate(90) scale(0.43 1)" class="cn">8</text>
<text class="g" transform="translate(598.15 3682.33) scale(38.5 29.72)" y="1" fill="#0000CC">L</text><text class="g" transform="translate(598.15 3712.05) scale(38.5 31.98)" y="1" fill="#0000CC">V</text><text class="g" transform="translate(598.15 3745.44) scale(38.5 2.83)" y="1" fill="#33E6CC">Y</text><text transform="translate(586.15 3756.3) rotate(90) scale(0.43 1)" class="cn">9</text>
<text class="g" transform="translate(643.25 3654.6) scale(38.5 85.47)" y="1" fill="#FFFF00">P</text><text class="g" transform="translate(643.25 3741.19) scale(38.5 7.07)" y="1" fill="#0000CC">V</text><text transform="translate(633.25 3755.5) rotate(90) scale(0.6 1)" class="cn c2">10</text>
<text class="g" transform="translate(688.35 3639.6) scale(38.5 110.37)" y="1" fill="#FF00FF">E</text><text transform="translate(678.35 3755.5) rotate(90) scale(0.6 1)" class="cn c2">11</text>
<text class="g" transform="translate(733.45 3633.94) scale(38.5 116.03)" y="1" fill="#008000">T</text><text transform="translate(723.45 3755.5) rotate(90) scale(0.6 1)" class="cn c2">12</text>
<text class="g" transform="translate(778.55 3652.62) scale(38.5 81.5)" y="1" fill="#CC0000">K</text><text class="g" transform="translate(778.55 3736.1) scale(38.5 11.89)" y="1" fill="#008000">Q</text><text transform="translate(768.55 3755.5) rotate(90) scale(0.6 1)" class="cn c2">13</text>
<text class="g" transform="translate(823.65 3662.52) scale(38.5 73.58)" y="1" fill="#FFB300">G</text><text class="g" transform="translate(823.65 3738.08) scale(38.5 7.92)" y="1" fill="#008000">S</text><text transform="translate(813.65 3755.5) rotate(90) scale(0.6 1)" class="cn c2">14</text>
<text class="g" transform="translate(868.75 3702.14) scale(38.5 13.87)" y="1" fill="#CC0000">R</text><text class="g" transform="translate(868.75 3717.42) scale(38.5 14.72)" y="1" fill="#0000CC">V</text><text class="g" transform="translate(868.75 3734.12) scale(38.5 9.9)" y="1" fill="#CC0000">K</text><text transform="translate(858.75 3755.5) rotate(90) scale(0.6 1)" class="cn c2">15</text>
<text class="g" transform="translate(913.85 3684.31) scale(38.5 27.73)" y="1" fill="#FFFF00">P</text><text class="g" transform="translate(913.85 3714.31) scale(38.5 21.79)" y="1" fill="#008000">T</text><text class="g" transform="translate(913.85 3738.08) scale(38.5 9.91)" y="1" fill="#008000">S</text><text transform="translate(903.85 3755.5) rotate(90) scale(0.6 1)" class="cn c2">16</text>
<text class="g" transform="translate(958.95 3670.44) scale(38.5 41.6)" y="1" fill="#0000CC">L</text><text class="g" transform="translate(958.95 3714.31) scale(38.5 31.7)" y="1" fill="#0000CC">I</text><text transform="translate(948.95 3755.5) rotate(90) scale(0.6 1)" class="cn c2">17</text>
<text class="g" transform="translate(1004.05 3643.56) scale(38.5 104.43)" y="1" fill="#FF00FF">E</text><text transform="translate(994.05 3755.5) rotate(90) scale(0.6 1)" class="cn c2">18</text>
<text class="g" transform="translate(1049.15 3684.31) scale(38.5 38.49)" y="1" fill="#FF00FF">E</text><text class="g" transform="translate(1049.15 3724.21) scale(38.5 9.9)" y="1" fill="#FF00FF">D</text><text class="g" transform="translate(1049.15 3736.1) scale(38.5 11.89)" y="1" fill="#008000">S</text><text transform="translate(1039.15 3755.5) rotate(90) scale(0.6 1)" class="cn c2">19</text>
<text class="g" transform="translate(1094.25 3675.26) scale(38.5 34.81)" y="1" fill="#0000CC">M</text><text class="g" transform="translate(1094.25 3713.46) scale(38.5 26.6)" y="1" fill="#0000CC">I</text><text class="g" transform="translate(1094.25 3741.19) scale(38.5 6.79)" y="1" fill="#0000CC">V</text><text transform="translate(1084.25 3755.5) rotate(90) scale(0.6 1)" class="cn c2">20</text>
<text class="g" transform="translate(1139.35 3714.88) scale(38.5 13.3)" y="1" fill="#FF00FF">E</text><text class="g" transform="translate(1139.35 3730.16) scale(38.5 9.9)" y="1" fill="#008000">T</text><text class="g" transform="translate(1139.35 3742.61) scale(38.5 5.66)" y="1" fill="#0000CC">A</text><text transform="translate(1129.35 3755.5) rotate(90) scale(0.6 1)" class="cn c2">21</text></g>
<g><path d="M212.2 3785.98V3909.7" stroke="#000" stroke-width="3.2" fill="none"/><path d="M206.6 3908.1H212.2" stroke="#000" stroke-width="3.2" fill="none"/><text transform="translate(202.7 3914.7) scale(1.12 1)" class="tk">0</text><path d="M206.6 3879.7H212.2" stroke="#000" stroke-width="3.2" fill="none"/><text transform="translate(202.7 3886.3) scale(1.12 1)" class="tk">1</text><path d="M206.6 3851.3H212.2" stroke="#000" stroke-width="3.2" fill="none"/><text transform="translate(202.7 3857.9) scale(1.12 1)" class="tk">2</text><path d="M206.6 3822.9H212.2" stroke="#000" stroke-width="3.2" fill="none"/><text transform="translate(202.7 3829.5) scale(1.12 1)" class="tk">3</text><path d="M206.6 3794.5H212.2" stroke="#000" stroke-width="3.2" fill="none"/><text transform="translate(202.7 3801.1) scale(1.12 1)" class="tk">4</text><text transform="translate(184.5 3847.89) rotate(-90)" class="bt">bits</text>
<text class="g" transform="translate(237.35 3859.25) scale(38.5 14.77)" y="1" fill="#0000CC">A</text><text class="g" transform="translate(237.35 3874.02) scale(38.5 11.08)" y="1" fill="#008000">S</text><text class="g" transform="translate(237.35 3885.1) scale(38.5 9.94)" y="1" fill="#0000CC">V</text><text class="g" transform="translate(237.35 3896.17) scale(38.5 3.41)" y="1" fill="#FFB300">G</text><text class="g" transform="translate(237.35 3899.58) scale(38.5 7.1)" y="1" fill="#0000CC">L</text><text transform="translate(225.35 3913.3) rotate(90) scale(0.43 1)" class="cn">1</text>
<text class="g" transform="translate(282.45 3826.31) scale(38.5 47.71)" y="1" fill="#008000">T</text><text class="g" transform="translate(282.45 3874.02) scale(38.5 28.97)" y="1" fill="#0000CC">I</text><text transform="translate(270.45 3913.3) rotate(90) scale(0.43 1)" class="cn">2</text>
<text class="g" transform="translate(327.55 3865.22) scale(38.5 19.88)" y="1" fill="#0000CC">L</text><text class="g" transform="translate(327.55 3885.1) scale(38.5 7.95)" y="1" fill="#0000CC">A</text><text class="g" transform="translate(327.55 3893.9) scale(38.5 2.84)" y="1" fill="#FFB300">G</text><text class="g" transform="translate(327.55 3896.74) scale(38.5 8.52)" y="1" fill="#0000CC">V</text><text transform="translate(315.55 3913.3) rotate(90) scale(0.43 1)" class="cn">3</text>
<text class="g" transform="translate(372.65 3829.43) scale(38.5 47.71)" y="1" fill="#0000CC">V</text><text class="g" transform="translate(372.65 3877.14) scale(38.5 23.86)" y="1" fill="#0000CC">I</text><text class="g" transform="translate(372.65 3902.42) scale(38.5 4.26)" y="1" fill="#0000CC">L</text><text transform="translate(360.65 3913.3) rotate(90) scale(0.43 1)" class="cn">4</text>
<text class="g" transform="translate(417.75 3832.56) scale(38.5 36.64)" y="1" fill="#008000">S</text><text class="g" transform="translate(417.75 3871.18) scale(38.5 27.83)" y="1" fill="#0000CC">A</text><text class="g" transform="translate(417.75 3900.15) scale(38.5 2.84)" y="1" fill="#FFB300">G</text><text transform="translate(405.75 3913.3) rotate(90) scale(0.43 1)" class="cn">5</text>
<text class="g" transform="translate(462.85 3858.12) scale(38.5 19.03)" y="1" fill="#0000CC">I</text><text class="g" transform="translate(462.85 3876.29) scale(38.5 10.79)" y="1" fill="#008000">T</text><text class="g" transform="translate(462.85 3889.07) scale(38.5 13.92)" y="1" fill="#0000CC">M</text><text transform="translate(450.85 3913.3) rotate(90) scale(0.43 1)" class="cn">6</text>
<text class="g" transform="translate(507.95 3879.7) scale(38.5 5.4)" y="1" fill="#33E6CC">Y</text><text class="g" transform="translate(507.95 3885.1) scale(38.5 11.93)" y="1" fill="#0000CC">L</text><text class="g" transform="translate(507.95 3899.58) scale(38.5 4.26)" y="1" fill="#FFB3B3">H</text><text transform="translate(495.95 3913.3) rotate(90) scale(0.43 1)" class="cn">7</text>
<text class="g" transform="translate(553.05 3875.16) scale(38.5 17.89)" y="1" fill="#0000CC">L</text><text class="g" transform="translate(553.05 3895.04) scale(38.5 7.95)" y="1" fill="#008000">T</text><text transform="translate(541.05 3913.3) rotate(90) scale(0.43 1)" class="cn">8</text>
<text class="g" transform="translate(598.15 3840.51) scale(38.5 35.78)" y="1" fill="#0000CC">V</text><text class="g" transform="translate(598.15 3876.29) scale(38.5 14.77)" y="1" fill="#0000CC">L</text><text class="g" transform="translate(598.15 3895.04) scale(38.5 11.93)" y="1" fill="#0000CC">M</text><text transform="translate(586.15 3913.3) rotate(90) scale(0.43 1)" class="cn">9</text>
<text class="g" transform="translate(643.25 3809.55) scale(38.5 89.46)" y="1" fill="#FF00FF">D</text><text class="g" transform="translate(643.25 3900.15) scale(38.5 5.11)" y="1" fill="#008000">S</text><text transform="translate(633.25 3912.5) rotate(90) scale(0.6 1)" class="cn c2">10</text>
<text class="g" transform="translate(688.35 3843.35) scale(38.5 33.8)" y="1" fill="#CC0000">K</text><text class="g" transform="translate(688.35 3880.27) scale(38.5 16.76)" y="1" fill="#CC0000">R</text><text class="g" transform="translate(688.35 3899.58) scale(38.5 4.26)" y="1" fill="#FF00FF">E</text><text transform="translate(678.35 3912.5) rotate(90) scale(0.6 1)" class="cn c2">11</text>
<text class="g" transform="translate(733.45 3874.02) scale(38.5 9.09)" y="1" fill="#0000CC">F</text><text class="g" transform="translate(733.45 3883.11) scale(38.5 13.92)" y="1" fill="#0000CC">A</text><text class="g" transform="translate(733.45 3899.58) scale(38.5 4.26)" y="1" fill="#FFB3B3">H</text><text transform="translate(723.45 3912.5) rotate(90) scale(0.6 1)" class="cn c2">12</text>
<text class="g" transform="translate(778.55 3789.67) scale(38.5 117.29)" y="1" fill="#FFB300">G</text><text transform="translate(768.55 3912.5) rotate(90) scale(0.6 1)" class="cn c2">13</text>
<text class="g" transform="translate(823.65 3788.82) scale(38.5 119.28)" y="1" fill="#CC0000">R</text><text transform="translate(813.65 3912.5) rotate(90) scale(0.6 1)" class="cn c2">14</text>
<text class="g" transform="translate(868.75 3813.53) scale(38.5 89.46)" y="1" fill="#CC0000">R</text><text transform="translate(858.75 3912.5) rotate(90) scale(0.6 1)" class="cn c2">15</text>
<text class="g" transform="translate(913.85 3874.02) scale(38.5 9.09)" y="1" fill="#FFFF00">P</text><text class="g" transform="translate(913.85 3884.24) scale(38.5 8.8)" y="1" fill="#0000CC">V</text><text class="g" transform="translate(913.85 3895.04) scale(38.5 5.96)" y="1" fill="#008000">S</text><text class="g" transform="translate(913.85 3902.99) scale(38.5 3.98)" y="1" fill="#0000CC">A</text><text transform="translate(903.85 3912.5) rotate(90) scale(0.6 1)" class="cn c2">16</text>
<text class="g" transform="translate(958.95 3808.7) scale(38.5 90.31)" y="1" fill="#0000CC">L</text><text class="g" transform="translate(958.95 3901) scale(38.5 4.26)" y="1" fill="#008000">S</text><text transform="translate(948.95 3912.5) rotate(90) scale(0.6 1)" class="cn c2">17</text>
<text class="g" transform="translate(1004.05 3829.43) scale(38.5 49.7)" y="1" fill="#0000CC">L</text><text class="g" transform="translate(1004.05 3880.27) scale(38.5 13.63)" y="1" fill="#0000CC">L</text><text class="g" transform="translate(1004.05 3897.02) scale(38.5 5.96)" y="1" fill="#0000CC">V</text><text transform="translate(994.05 3912.5) rotate(90) scale(0.6 1)" class="cn c2">18</text>
<text class="g" transform="translate(1049.15 3827.44) scale(38.5 51.69)" y="1" fill="#0000CC">L</text><text class="g" transform="translate(1049.15 3881.12) scale(38.5 17.89)" y="1" fill="#0000CC">I</text><text class="g" transform="translate(1049.15 3899.58) scale(38.5 2.84)" y="1" fill="#33E6CC">Y</text><text class="g" transform="translate(1049.15 3902.99) scale(38.5 3.69)" y="1" fill="#0000CC">A</text><text transform="translate(1039.15 3912.5) rotate(90) scale(0.6 1)" class="cn c2">19</text>
<text class="g" transform="translate(1094.25 3879.13) scale(38.5 5.96)" y="1" fill="#FF00FF">E</text><text class="g" transform="translate(1094.25 3885.1) scale(38.5 7.95)" y="1" fill="#008000">T</text><text class="g" transform="translate(1094.25 3893.05) scale(38.5 7.95)" y="1" fill="#0000CC">A</text><text class="g" transform="translate(1094.25 3902.42) scale(38.5 2.84)" y="1" fill="#FFB300">G</text><text transform="translate(1084.25 3912.5) rotate(90) scale(0.6 1)" class="cn c2">20</text></g>
<g><path d="M212.2 3939.45V4063.6" stroke="#000" stroke-width="3.2" fill="none"/><path d="M206.6 4062H212.2" stroke="#000" stroke-width="3.2" fill="none"/><text transform="translate(202.7 4068.6) scale(1.12 1)" class="tk">0</text><path d="M206.6 4033.5H212.2" stroke="#000" stroke-width="3.2" fill="none"/><text transform="translate(202.7 4040.1) scale(1.12 1)" class="tk">1</text><path d="M206.6 4005H212.2" stroke="#000" stroke-width="3.2" fill="none"/><text transform="translate(202.7 4011.6) scale(1.12 1)" class="tk">2</text><path d="M206.6 3976.5H212.2" stroke="#000" stroke-width="3.2" fill="none"/><text transform="translate(202.7 3983.1) scale(1.12 1)" class="tk">3</text><path d="M206.6 3948H212.2" stroke="#000" stroke-width="3.2" fill="none"/><text transform="translate(202.7 3954.6) scale(1.12 1)" class="tk">4</text><text transform="translate(184.5 4001.58) rotate(-90)" class="bt">bits</text>
<text class="g" transform="translate(237.35 4013.26) scale(38.5 17.1)" y="1" fill="#0000CC">A</text><text class="g" transform="translate(237.35 4030.36) scale(38.5 13.68)" y="1" fill="#FFB300">G</text><text class="g" transform="translate(237.35 4046.04) scale(38.5 3.99)" y="1" fill="#33E6CC">Y</text><text class="g" transform="translate(237.35 4050.03) scale(38.5 7.98)" y="1" fill="#0000CC">V</text><text transform="translate(225.35 4067.2) rotate(90) scale(0.43 1)" class="cn">1</text>
<text class="g" transform="translate(282.45 3986.47) scale(38.5 37.9)" y="1" fill="#0000CC">A</text><text class="g" transform="translate(282.45 4026.38) scale(38.5 19.66)" y="1" fill="#008000">S</text><text class="g" transform="translate(282.45 4048.03) scale(38.5 11.97)" y="1" fill="#FFB300">G</text><text transform="translate(270.45 4067.2) rotate(90) scale(0.43 1)" class="cn">2</text>
<text class="g" transform="translate(327.55 3984.48) scale(38.5 55.58)" y="1" fill="#0000CC">L</text><text class="g" transform="translate(327.55 4040.05) scale(38.5 11.97)" y="1" fill="#008000">T</text><text class="g" transform="translate(327.55 4052.03) scale(38.5 7.98)" y="1" fill="#0000CC">I</text><text transform="translate(315.55 4067.2) rotate(90) scale(0.43 1)" class="cn">3</text>
<text class="g" transform="translate(372.65 4003.57) scale(38.5 20.8)" y="1" fill="#0000CC">V</text><text class="g" transform="translate(372.65 4026.38) scale(38.5 19.66)" y="1" fill="#0000CC">I</text><text class="g" transform="translate(372.65 4046.04) scale(38.5 13.97)" y="1" fill="#0000CC">L</text><text transform="translate(360.65 4067.2) rotate(90) scale(0.43 1)" class="cn">4</text>
<text class="g" transform="translate(417.75 3994.45) scale(38.5 31.92)" y="1" fill="#FFB300">G</text><text class="g" transform="translate(417.75 4030.36) scale(38.5 15.68)" y="1" fill="#0000CC">A</text><text class="g" transform="translate(417.75 4046.04) scale(38.5 11.97)" y="1" fill="#008000">S</text><text transform="translate(405.75 4067.2) rotate(90) scale(0.43 1)" class="cn">5</text>
<text class="g" transform="translate(462.85 3987.9) scale(38.5 38.48)" y="1" fill="#008000">S</text><text class="g" transform="translate(462.85 4026.38) scale(38.5 19.66)" y="1" fill="#008000">T</text><text class="g" transform="translate(462.85 4048.03) scale(38.5 9.97)" y="1" fill="#0000CC">A</text><text transform="translate(450.85 4067.2) rotate(90) scale(0.43 1)" class="cn">6</text>
<text class="g" transform="translate(507.95 4008.42) scale(38.5 15.96)" y="1" fill="#0000CC">L</text><text class="g" transform="translate(507.95 4024.38) scale(38.5 13.68)" y="1" fill="#0000CC">F</text><text class="g" transform="translate(507.95 4038.06) scale(38.5 13.96)" y="1" fill="#0000CC">A</text><text class="g" transform="translate(507.95 4053.45) scale(38.5 5.7)" y="1" fill="#008000">T</text><text transform="translate(495.95 4067.2) rotate(90) scale(0.43 1)" class="cn">7</text>
<text class="g" transform="translate(553.05 4027.51) scale(38.5 8.55)" y="1" fill="#0000CC">F</text><text class="g" transform="translate(553.05 4036.07) scale(38.5 11.97)" y="1" fill="#0000CC">I</text><text class="g" transform="translate(553.05 4048.03) scale(38.5 5.42)" y="1" fill="#008000">S</text><text class="g" transform="translate(553.05 4054.88) scale(38.5 4.27)" y="1" fill="#FFB300">G</text><text transform="translate(541.05 4067.2) rotate(90) scale(0.43 1)" class="cn">8</text>
<text class="g" transform="translate(598.15 3988.47) scale(38.5 35.91)" y="1" fill="#0000CC">A</text><text class="g" transform="translate(598.15 4032.07) scale(38.5 13.96)" y="1" fill="#FFB300">G</text><text class="g" transform="translate(598.15 4046.04) scale(38.5 11.97)" y="1" fill="#008000">S</text><text transform="translate(586.15 4067.2) rotate(90) scale(0.43 1)" class="cn">9</text>
<text class="g" transform="translate(643.25 3985.34) scale(38.5 39.04)" y="1" fill="#FFB300">G</text><text class="g" transform="translate(643.25 4028.94) scale(38.5 19.09)" y="1" fill="#008000">S</text><text class="g" transform="translate(643.25 4050.03) scale(38.5 7.98)" y="1" fill="#008000">T</text><text transform="translate(633.25 4066.4) rotate(90) scale(0.6 1)" class="cn c2">10</text>
<text class="g" transform="translate(688.35 4039.2) scale(38.5 4.85)" y="1" fill="#CC0000">K</text><text class="g" transform="translate(688.35 4044.05) scale(38.5 3.99)" y="1" fill="#FFFF00">P</text><text class="g" transform="translate(688.35 4049.18) scale(38.5 2.85)" y="1" fill="#33E6CC">Y</text><text class="g" transform="translate(688.35 4053.45) scale(38.5 5.7)" y="1" fill="#0000CC">A</text><text transform="translate(678.35 4066.4) rotate(90) scale(0.6 1)" class="cn c2">11</text>
<text class="g" transform="translate(733.45 3998.45) scale(38.5 25.08)" y="1" fill="#008000">T</text><text class="g" transform="translate(733.45 4024.95) scale(38.5 14.25)" y="1" fill="#0000CC">V</text><text class="g" transform="translate(733.45 4039.2) scale(38.5 12.83)" y="1" fill="#0000CC">I</text><text class="g" transform="translate(733.45 4052.03) scale(38.5 9.97)" y="1" fill="#0000CC">L</text><text transform="translate(723.45 4066.4) rotate(90) scale(0.6 1)" class="cn c2">12</text>
<text class="g" transform="translate(778.55 3994.45) scale(38.5 23.94)" y="1" fill="#008000">T</text><text class="g" transform="translate(778.55 4020.39) scale(38.5 19.66)" y="1" fill="#008000">S</text><text class="g" transform="translate(778.55 4042.05) scale(38.5 17.95)" y="1" fill="#0000CC">A</text><text transform="translate(768.55 4066.4) rotate(90) scale(0.6 1)" class="cn c2">13</text>
<text class="g" transform="translate(823.65 3984.48) scale(38.5 43.89)" y="1" fill="#FF00FF">D</text><text class="g" transform="translate(823.65 4030.36) scale(38.5 29.64)" y="1" fill="#CC0000">R</text><text transform="translate(813.65 4066.4) rotate(90) scale(0.6 1)" class="cn c2">14</text>
<text class="g" transform="translate(868.75 4039.2) scale(38.5 6.84)" y="1" fill="#0000CC">A</text><text class="g" transform="translate(868.75 4048.03) scale(38.5 7.98)" y="1" fill="#008000">S</text><text transform="translate(858.75 4066.4) rotate(90) scale(0.6 1)" class="cn c2">15</text>
<text class="g" transform="translate(913.85 4009.28) scale(38.5 38.76)" y="1" fill="#0000CC">L</text><text class="g" transform="translate(913.85 4054.02) scale(38.5 2.28)" y="1" fill="#33E6CC">Y</text><text transform="translate(903.85 4066.4) rotate(90) scale(0.6 1)" class="cn c2">16</text>
<text class="g" transform="translate(958.95 3945.15) scale(38.5 114.85)" y="1" fill="#FFB300">G</text><text transform="translate(948.95 4066.4) rotate(90) scale(0.6 1)" class="cn c2">17</text>
<text class="g" transform="translate(1004.05 3953.7) scale(38.5 104.31)" y="1" fill="#CC0000">R</text><text transform="translate(994.05 4066.4) rotate(90) scale(0.6 1)" class="cn c2">18</text>
<text class="g" transform="translate(1049.15 3982.49) scale(38.5 37.91)" y="1" fill="#CC0000">K</text><text class="g" transform="translate(1049.15 4024.38) scale(38.5 29.64)" y="1" fill="#CC0000">R</text><text transform="translate(1039.15 4066.4) rotate(90) scale(0.6 1)" class="cn c2">19</text>
<text class="g" transform="translate(1094.25 4036.35) scale(38.5 5.7)" y="1" fill="#33E6CC">Y</text><text class="g" transform="translate(1094.25 4042.05) scale(38.5 5.98)" y="1" fill="#CC0000">R</text><text class="g" transform="translate(1094.25 4048.03) scale(38.5 3.99)" y="1" fill="#FFFF00">P</text><text class="g" transform="translate(1094.25 4052.03) scale(38.5 7.12)" y="1" fill="#0000CC">A</text><text transform="translate(1084.25 4066.4) rotate(90) scale(0.6 1)" class="cn c2">20</text>
<text class="g" transform="translate(1139.35 3998.45) scale(38.5 31.92)" y="1" fill="#008000">T</text><text class="g" transform="translate(1139.35 4032.07) scale(38.5 15.96)" y="1" fill="#008000">S</text><text class="g" transform="translate(1139.35 4049.18) scale(38.5 8.83)" y="1" fill="#0000CC">A</text><text transform="translate(1129.35 4066.4) rotate(90) scale(0.6 1)" class="cn c2">21</text>
<text class="g" transform="translate(1184.45 3994.45) scale(38.5 27.93)" y="1" fill="#0000CC">I</text><text class="g" transform="translate(1184.45 4023.53) scale(38.5 22.52)" y="1" fill="#0000CC">M</text><text class="g" transform="translate(1184.45 4046.04) scale(38.5 11.97)" y="1" fill="#0000CC">L</text><text transform="translate(1174.45 4066.4) rotate(90) scale(0.6 1)" class="cn c2">22</text>
<text class="g" transform="translate(1229.55 4018.39) scale(38.5 13.68)" y="1" fill="#0000CC">L</text><text class="g" transform="translate(1229.55 4032.07) scale(38.5 17.96)" y="1" fill="#0000CC">V</text><text class="g" transform="translate(1229.55 4053.45) scale(38.5 2.85)" y="1" fill="#CC0000">R</text><text class="g" transform="translate(1229.55 4056.3) scale(38.5 4.28)" y="1" fill="#0000CC">A</text><text transform="translate(1219.55 4066.4) rotate(90) scale(0.6 1)" class="cn c2">23</text>
<text class="g" transform="translate(1274.65 4016.4) scale(38.5 15.68)" y="1" fill="#0000CC">L</text><text class="g" transform="translate(1274.65 4040.05) scale(38.5 15.96)" y="1" fill="#0000CC">A</text><text transform="translate(1264.65 4066.4) rotate(90) scale(0.6 1)" class="cn c2">24</text>
<text class="g" transform="translate(1319.75 3986.47) scale(38.5 43.89)" y="1" fill="#0000CC">A</text><text class="g" transform="translate(1319.75 4034.07) scale(38.5 11.97)" y="1" fill="#FFB300">G</text><text class="g" transform="translate(1319.75 4048.03) scale(38.5 11.97)" y="1" fill="#008000">S</text><text transform="translate(1309.75 4066.4) rotate(90) scale(0.6 1)" class="cn c2">25</text>
<text class="g" transform="translate(1364.85 4002.43) scale(38.5 21.94)" y="1" fill="#FFB300">G</text><text class="g" transform="translate(1364.85 4030.36) scale(38.5 15.68)" y="1" fill="#0000CC">A</text><text class="g" transform="translate(1364.85 4050.03) scale(38.5 5.98)" y="1" fill="#FF00FF">E</text><text transform="translate(1354.85 4066.4) rotate(90) scale(0.6 1)" class="cn c2">26</text>
<text class="g" transform="translate(1409.95 4020.39) scale(38.5 13.68)" y="1" fill="#0000CC">V</text><text class="g" transform="translate(1409.95 4034.07) scale(38.5 13.96)" y="1" fill="#0000CC">I</text><text class="g" transform="translate(1409.95 4050.6) scale(38.5 5.7)" y="1" fill="#008000">T</text><text transform="translate(1399.95 4066.4) rotate(90) scale(0.6 1)" class="cn c2">27</text>
<text class="g" transform="translate(1455.05 4028.37) scale(38.5 9.69)" y="1" fill="#0000CC">V</text><text class="g" transform="translate(1455.05 4040.05) scale(38.5 9.98)" y="1" fill="#0000CC">I</text><text class="g" transform="translate(1455.05 4052.03) scale(38.5 4.27)" y="1" fill="#008000">T</text><text class="g" transform="translate(1455.05 4057.72) scale(38.5 2.85)" y="1" fill="#FFFF00">P</text><text transform="translate(1445.05 4066.4) rotate(90) scale(0.6 1)" class="cn c2">28</text>
<text class="g" transform="translate(1500.15 3980.49) scale(38.5 59.56)" y="1" fill="#0000CC">F</text><text class="g" transform="translate(1500.15 4042.05) scale(38.5 5.98)" y="1" fill="#33E6CC">Y</text><text class="g" transform="translate(1500.15 4048.03) scale(38.5 11.97)" y="1" fill="#0000CC">L</text><text transform="translate(1490.15 4066.4) rotate(90) scale(0.6 1)" class="cn c2">29</text>
<text class="g" transform="translate(1545.25 4014.41) scale(38.5 19.66)" y="1" fill="#0000CC">L</text><text class="g" transform="translate(1545.25 4040.05) scale(38.5 7.98)" y="1" fill="#0000CC">V</text><text class="g" transform="translate(1545.25 4050.6) scale(38.5 5.7)" y="1" fill="#0000CC">A</text><text class="g" transform="translate(1545.25 4056.3) scale(38.5 4.28)" y="1" fill="#008000">S</text><text transform="translate(1535.25 4066.4) rotate(90) scale(0.6 1)" class="cn c2">30</text>
<text class="g" transform="translate(1590.35 4010.41) scale(38.5 14.54)" y="1" fill="#0000CC">V</text><text class="g" transform="translate(1590.35 4024.95) scale(38.5 13.11)" y="1" fill="#0000CC">A</text><text class="g" transform="translate(1590.35 4040.05) scale(38.5 15.96)" y="1" fill="#0000CC">F</text><text transform="translate(1580.35 4066.4) rotate(90) scale(0.6 1)" class="cn c2">31</text>
<text class="g" transform="translate(1635.45 3958.83) scale(38.5 93.2)" y="1" fill="#FFB300">G</text><text class="g" transform="translate(1635.45 4052.03) scale(38.5 7.98)" y="1" fill="#008000">S</text><text transform="translate(1625.45 4066.4) rotate(90) scale(0.6 1)" class="cn c2">32</text>
<text class="g" transform="translate(1680.55 3995.59) scale(38.5 33.35)" y="1" fill="#0000CC">A</text><text class="g" transform="translate(1680.55 4034.07) scale(38.5 11.97)" y="1" fill="#008000">T</text><text class="g" transform="translate(1680.55 4050.6) scale(38.5 2.85)" y="1" fill="#FFB300">G</text><text class="g" transform="translate(1680.55 4054.88) scale(38.5 5.7)" y="1" fill="#0000CC">L</text><text transform="translate(1670.55 4066.4) rotate(90) scale(0.6 1)" class="cn c2">33</text>
<text class="g" transform="translate(1725.65 4009.28) scale(38.5 17.1)" y="1" fill="#0000CC">L</text><text class="g" transform="translate(1725.65 4030.36) scale(38.5 9.69)" y="1" fill="#0000CC">I</text><text class="g" transform="translate(1725.65 4040.05) scale(38.5 15.96)" y="1" fill="#0000CC">V</text><text transform="translate(1715.65 4066.4) rotate(90) scale(0.6 1)" class="cn c2">34</text>
<text class="g" transform="translate(1770.75 4006.43) scale(38.5 21.95)" y="1" fill="#0000CC">L</text><text class="g" transform="translate(1770.75 4034.07) scale(38.5 10.83)" y="1" fill="#0000CC">V</text><text class="g" transform="translate(1770.75 4044.9) scale(38.5 13.11)" y="1" fill="#0000CC">I</text><text transform="translate(1760.75 4066.4) rotate(90) scale(0.6 1)" class="cn c2">35</text>
<text class="g" transform="translate(1815.85 4006.43) scale(38.5 19.95)" y="1" fill="#0000CC">M</text><text class="g" transform="translate(1815.85 4028.37) scale(38.5 19.66)" y="1" fill="#008000">N</text><text class="g" transform="translate(1815.85 4052.03) scale(38.5 4.27)" y="1" fill="#008000">S</text><text transform="translate(1805.85 4066.4) rotate(90) scale(0.6 1)" class="cn c2">36</text>
<text class="g" transform="translate(1860.95 4002.43) scale(38.5 17.95)" y="1" fill="#0000CC">A</text><text class="g" transform="translate(1860.95 4024.95) scale(38.5 23.09)" y="1" fill="#FFB300">G</text><text class="g" transform="translate(1860.95 4051.17) scale(38.5 6.84)" y="1" fill="#008000">S</text><text transform="translate(1850.95 4066.4) rotate(90) scale(0.6 1)" class="cn c2">37</text>
<text class="g" transform="translate(1906.05 4028.37) scale(38.5 17.67)" y="1" fill="#0000CC">C</text><text class="g" transform="translate(1906.05 4048.89) scale(38.5 7.12)" y="1" fill="#008000">T</text><text transform="translate(1896.05 4066.4) rotate(90) scale(0.6 1)" class="cn c2">38</text>
<text class="g" transform="translate(1951.15 3978.49) scale(38.5 65.55)" y="1" fill="#0000CC">A</text><text class="g" transform="translate(1951.15 4046.04) scale(38.5 7.98)" y="1" fill="#008000">S</text><text class="g" transform="translate(1951.15 4056.3) scale(38.5 4.28)" y="1" fill="#0000CC">L</text><text transform="translate(1941.15 4066.4) rotate(90) scale(0.6 1)" class="cn c2">39</text>
<text class="g" transform="translate(1996.25 4030.36) scale(38.5 5.13)" y="1" fill="#FFFF00">P</text><text class="g" transform="translate(1996.25 4036.35) scale(38.5 4.56)" y="1" fill="#CC0000">R</text><text class="g" transform="translate(1996.25 4042.05) scale(38.5 13.96)" y="1" fill="#008000">S</text><text class="g" transform="translate(1996.25 4056.3) scale(38.5 4.28)" y="1" fill="#0000CC">A</text><text transform="translate(1986.25 4066.4) rotate(90) scale(0.6 1)" class="cn c2">40</text>
<text class="g" transform="translate(2041.35 4009.28) scale(38.5 30.78)" y="1" fill="#008000">N</text><text class="g" transform="translate(2041.35 4040.05) scale(38.5 7.98)" y="1" fill="#008000">S</text><text class="g" transform="translate(2041.35 4048.89) scale(38.5 5.13)" y="1" fill="#FF00FF">E</text><text class="g" transform="translate(2041.35 4054.88) scale(38.5 4.27)" y="1" fill="#FFB300">G</text><text transform="translate(2031.35 4066.4) rotate(90) scale(0.6 1)" class="cn c2">41</text></g>
<g><path d="M212.2 4095.68V4219.4" stroke="#000" stroke-width="3.2" fill="none"/><path d="M206.6 4217.8H212.2" stroke="#000" stroke-width="3.2" fill="none"/><text transform="translate(202.7 4224.4) scale(1.12 1)" class="tk">0</text><path d="M206.6 4189.4H212.2" stroke="#000" stroke-width="3.2" fill="none"/><text transform="translate(202.7 4196) scale(1.12 1)" class="tk">1</text><path d="M206.6 4161H212.2" stroke="#000" stroke-width="3.2" fill="none"/><text transform="translate(202.7 4167.6) scale(1.12 1)" class="tk">2</text><path d="M206.6 4132.6H212.2" stroke="#000" stroke-width="3.2" fill="none"/><text transform="translate(202.7 4139.2) scale(1.12 1)" class="tk">3</text><path d="M206.6 4104.2H212.2" stroke="#000" stroke-width="3.2" fill="none"/><text transform="translate(202.7 4110.8) scale(1.12 1)" class="tk">4</text><text transform="translate(184.5 4157.59) rotate(-90)" class="bt">bits</text>
<text class="g" transform="translate(237.35 4174.63) scale(38.5 9.94)" y="1" fill="#FFB300">G</text><text class="g" transform="translate(237.35 4184.57) scale(38.5 10.22)" y="1" fill="#FFB3B3">H</text><text class="g" transform="translate(237.35 4196.5) scale(38.5 10.22)" y="1" fill="#FFFF00">P</text><text class="g" transform="translate(237.35 4207.58) scale(38.5 4.54)" y="1" fill="#CC0000">R</text><text class="g" transform="translate(237.35 4212.12) scale(38.5 3.12)" y="1" fill="#008000">S</text><text transform="translate(225.35 4223) rotate(90) scale(0.43 1)" class="cn">1</text>
<text class="g" transform="translate(282.45 4179.46) scale(32.8 15.34)" y="1" fill="#0000CC">W</text><text class="g" transform="translate(282.45 4197.92) scale(38.5 4.26)" y="1" fill="#33E6CC">Y</text><text class="g" transform="translate(282.45 4205.02) scale(38.5 5.68)" y="1" fill="#0000CC">A</text><text class="g" transform="translate(282.45 4212.12) scale(38.5 2.84)" y="1" fill="#FFB300">G</text><text transform="translate(270.45 4223) rotate(90) scale(0.43 1)" class="cn">2</text>
<text class="g" transform="translate(327.55 4154.18) scale(38.5 30.39)" y="1" fill="#FFB300">G</text><text class="g" transform="translate(327.55 4189.68) scale(38.5 20.45)" y="1" fill="#008000">N</text><text class="g" transform="translate(327.55 4211.55) scale(38.5 5.11)" y="1" fill="#0000CC">A</text><text transform="translate(315.55 4223) rotate(90) scale(0.43 1)" class="cn">3</text>
<text class="g" transform="translate(372.65 4101.64) scale(32.8 116.16)" y="1" fill="#0000CC">W</text><text transform="translate(360.65 4223) rotate(90) scale(0.43 1)" class="cn">4</text>
<text class="g" transform="translate(417.75 4101.64) scale(38.5 116.16)" y="1" fill="#CC0000">R</text><text transform="translate(405.75 4223) rotate(90) scale(0.43 1)" class="cn">5</text>
<text class="g" transform="translate(462.85 4172.08) scale(38.5 20.16)" y="1" fill="#0000CC">L</text><text class="g" transform="translate(462.85 4194.8) scale(38.5 10.22)" y="1" fill="#0000CC">A</text><text class="g" transform="translate(462.85 4205.02) scale(38.5 5.68)" y="1" fill="#008000">S</text><text class="g" transform="translate(462.85 4212.12) scale(38.5 2.84)" y="1" fill="#33E6CC">Y</text><text transform="translate(450.85 4223) rotate(90) scale(0.43 1)" class="cn">6</text>
<text class="g" transform="translate(507.95 4126.07) scale(38.5 51.97)" y="1" fill="#0000CC">M</text><text class="g" transform="translate(507.95 4181.16) scale(38.5 35.5)" y="1" fill="#008000">S</text><text transform="translate(495.95 4223) rotate(90) scale(0.43 1)" class="cn">7</text>
<text class="g" transform="translate(553.05 4120.96) scale(38.5 89.18)" y="1" fill="#0000CC">L</text><text class="g" transform="translate(553.05 4213.54) scale(38.5 2.84)" y="1" fill="#33E6CC">Y</text><text transform="translate(541.05 4223) rotate(90) scale(0.43 1)" class="cn">8</text>
<text class="g" transform="translate(598.15 4120.1) scale(38.5 82.36)" y="1" fill="#FFB300">G</text><text class="g" transform="translate(598.15 4205.02) scale(38.5 11.64)" y="1" fill="#0000CC">A</text><text transform="translate(586.15 4223) rotate(90) scale(0.43 1)" class="cn">9</text>
<text class="g" transform="translate(643.25 4154.18) scale(38.5 25.28)" y="1" fill="#0000CC">L</text><text class="g" transform="translate(643.25 4179.46) scale(38.5 15.62)" y="1" fill="#0000CC">V</text><text class="g" transform="translate(643.25 4195.08) scale(38.5 15.05)" y="1" fill="#0000CC">I</text><text class="g" transform="translate(643.25 4211.55) scale(38.5 2.27)" y="1" fill="#FFB300">G</text><text class="g" transform="translate(643.25 4214.39) scale(38.5 2.84)" y="1" fill="#0000CC">A</text><text transform="translate(633.25 4222.2) rotate(90) scale(0.6 1)" class="cn c2">10</text>
<text class="g" transform="translate(688.35 4142.54) scale(38.5 36.92)" y="1" fill="#0000CC">A</text><text class="g" transform="translate(688.35 4189.68) scale(38.5 15.34)" y="1" fill="#FFB300">G</text><text class="g" transform="translate(688.35 4206.72) scale(38.5 8.52)" y="1" fill="#008000">S</text><text transform="translate(678.35 4222.2) rotate(90) scale(0.6 1)" class="cn c2">11</text>
<text class="g" transform="translate(733.45 4174.63) scale(38.5 16.76)" y="1" fill="#0000CC">A</text><text class="g" transform="translate(733.45 4192.24) scale(38.5 7.67)" y="1" fill="#FFB300">G</text><text class="g" transform="translate(733.45 4199.91) scale(38.5 13.92)" y="1" fill="#0000CC">V</text><text transform="translate(723.45 4222.2) rotate(90) scale(0.6 1)" class="cn c2">12</text>
<text class="g" transform="translate(778.55 4156.74) scale(38.5 26.98)" y="1" fill="#0000CC">V</text><text class="g" transform="translate(778.55 4183.72) scale(38.5 22.72)" y="1" fill="#0000CC">I</text><text class="g" transform="translate(778.55 4209.28) scale(38.5 2.84)" y="1" fill="#FFFF00">P</text><text class="g" transform="translate(778.55 4212.69) scale(38.5 2.84)" y="1" fill="#008000">S</text><text transform="translate(768.55 4222.2) rotate(90) scale(0.6 1)" class="cn c2">13</text>
<text class="g" transform="translate(823.65 4116.98) scale(38.5 93.15)" y="1" fill="#FFFF00">P</text><text class="g" transform="translate(823.65 4212.12) scale(38.5 4.26)" y="1" fill="#0000CC">A</text><text transform="translate(813.65 4222.2) rotate(90) scale(0.6 1)" class="cn c2">14</text>
<text class="g" transform="translate(868.75 4128.62) scale(38.5 48.56)" y="1" fill="#0000CC">A</text><text class="g" transform="translate(868.75 4181.16) scale(38.5 35.5)" y="1" fill="#008000">S</text><text transform="translate(858.75 4222.2) rotate(90) scale(0.6 1)" class="cn c2">15</text></g>
<g><path d="M212.2 4252.36V4373.5" stroke="#000" stroke-width="3.2" fill="none"/><path d="M206.6 4371.9H212.2" stroke="#000" stroke-width="3.2" fill="none"/><text transform="translate(202.7 4378.5) scale(1.12 1)" class="tk">0</text><path d="M206.6 4344.1H212.2" stroke="#000" stroke-width="3.2" fill="none"/><text transform="translate(202.7 4350.7) scale(1.12 1)" class="tk">1</text><path d="M206.6 4316.3H212.2" stroke="#000" stroke-width="3.2" fill="none"/><text transform="translate(202.7 4322.9) scale(1.12 1)" class="tk">2</text><path d="M206.6 4288.5H212.2" stroke="#000" stroke-width="3.2" fill="none"/><text transform="translate(202.7 4295.1) scale(1.12 1)" class="tk">3</text><path d="M206.6 4260.7H212.2" stroke="#000" stroke-width="3.2" fill="none"/><text transform="translate(202.7 4267.3) scale(1.12 1)" class="tk">4</text><text transform="translate(184.5 4312.96) rotate(-90)" class="bt">bits</text>
<text class="g" transform="translate(237.35 4266.54) scale(38.5 97.3)" y="1" fill="#0000CC">A</text><text class="g" transform="translate(237.35 4366.9) scale(38.5 2.22)" y="1" fill="#FFFF00">P</text><text transform="translate(225.35 4377.1) rotate(90) scale(0.43 1)" class="cn">1</text>
<text class="g" transform="translate(282.45 4305.46) scale(38.5 33.36)" y="1" fill="#0000CC">A</text><text class="g" transform="translate(282.45 4342.15) scale(38.5 13.9)" y="1" fill="#008000">S</text><text class="g" transform="translate(282.45 4358) scale(38.5 6.95)" y="1" fill="#0000CC">V</text><text class="g" transform="translate(282.45 4364.95) scale(38.5 5)" y="1" fill="#FFB300">G</text><text transform="translate(270.45 4377.1) rotate(90) scale(0.43 1)" class="cn">2</text>
<text class="g" transform="translate(327.55 4334.09) scale(38.5 11.95)" y="1" fill="#0000CC">I</text><text class="g" transform="translate(327.55 4347.99) scale(38.5 10.01)" y="1" fill="#008000">S</text><text class="g" transform="translate(327.55 4358) scale(38.5 6.95)" y="1" fill="#0000CC">A</text><text class="g" transform="translate(327.55 4365.78) scale(38.5 4.17)" y="1" fill="#008000">T</text><text transform="translate(315.55 4377.1) rotate(90) scale(0.43 1)" class="cn">3</text>
<text class="g" transform="translate(372.65 4296.56) scale(38.5 49.48)" y="1" fill="#FFB300">G</text><text class="g" transform="translate(372.65 4352.16) scale(38.5 13.9)" y="1" fill="#008000">N</text><text transform="translate(360.65 4377.1) rotate(90) scale(0.43 1)" class="cn">4</text>
<text class="g" transform="translate(417.75 4303.23) scale(38.5 42.81)" y="1" fill="#FFB300">G</text><text class="g" transform="translate(417.75 4349.94) scale(38.5 16.12)" y="1" fill="#008000">S</text><text transform="translate(405.75 4377.1) rotate(90) scale(0.43 1)" class="cn">5</text>
<text class="g" transform="translate(462.85 4306.29) scale(38.5 33.92)" y="1" fill="#0000CC">L</text><text class="g" transform="translate(462.85 4340.21) scale(38.5 15.85)" y="1" fill="#0000CC">V</text><text class="g" transform="translate(462.85 4358) scale(38.5 4.17)" y="1" fill="#008000">T</text><text class="g" transform="translate(462.85 4362.17) scale(38.5 5.84)" y="1" fill="#0000CC">A</text><text transform="translate(450.85 4377.1) rotate(90) scale(0.43 1)" class="cn">6</text>
<text class="g" transform="translate(507.95 4292.39) scale(38.5 53.65)" y="1" fill="#0000CC">L</text><text class="g" transform="translate(507.95 4356.05) scale(38.5 13.9)" y="1" fill="#0000CC">M</text><text transform="translate(495.95 4377.1) rotate(90) scale(0.43 1)" class="cn">7</text>
<text class="g" transform="translate(553.05 4300.45) scale(38.5 59.49)" y="1" fill="#0000CC">F</text><text class="g" transform="translate(553.05 4361.89) scale(38.5 6.12)" y="1" fill="#008000">T</text><text transform="translate(541.05 4377.1) rotate(90) scale(0.43 1)" class="cn">8</text>
<text class="g" transform="translate(598.15 4271.54) scale(38.5 96.47)" y="1" fill="#FFB300">G</text><text transform="translate(586.15 4377.1) rotate(90) scale(0.43 1)" class="cn">9</text>
<text class="g" transform="translate(643.25 4276.55) scale(38.5 83.4)" y="1" fill="#33E6CC">Y</text><text class="g" transform="translate(643.25 4361.06) scale(32.8 8.9)" y="1" fill="#0000CC">W</text><text transform="translate(633.25 4376.3) rotate(90) scale(0.6 1)" class="cn c2">10</text>
<text class="g" transform="translate(688.35 4281.83) scale(38.5 82.01)" y="1" fill="#FF00FF">D</text><text class="g" transform="translate(688.35 4366.34) scale(38.5 2.78)" y="1" fill="#FFB300">G</text><text transform="translate(678.35 4376.3) rotate(90) scale(0.6 1)" class="cn c2">11</text>
<text class="g" transform="translate(733.45 4319.08) scale(38.5 21.13)" y="1" fill="#0000CC">I</text><text class="g" transform="translate(733.45 4342.15) scale(38.5 15.85)" y="1" fill="#0000CC">V</text><text class="g" transform="translate(733.45 4358) scale(38.5 5.84)" y="1" fill="#008000">T</text><text class="g" transform="translate(733.45 4364.95) scale(38.5 4.17)" y="1" fill="#0000CC">A</text><text transform="translate(723.45 4376.3) rotate(90) scale(0.6 1)" class="cn c2">12</text>
<text class="g" transform="translate(778.55 4274.6) scale(38.5 85.35)" y="1" fill="#FFB300">G</text><text class="g" transform="translate(778.55 4361.89) scale(38.5 6.12)" y="1" fill="#0000CC">A</text><text transform="translate(768.55 4376.3) rotate(90) scale(0.6 1)" class="cn c2">13</text>
<text class="g" transform="translate(823.65 4300.45) scale(38.5 37.81)" y="1" fill="#0000CC">V</text><text class="g" transform="translate(823.65 4338.26) scale(38.5 23.63)" y="1" fill="#0000CC">I</text><text class="g" transform="translate(823.65 4363.56) scale(38.5 4.17)" y="1" fill="#008000">T</text><text transform="translate(813.65 4376.3) rotate(90) scale(0.6 1)" class="cn c2">14</text>
<text class="g" transform="translate(868.75 4314.35) scale(38.5 19.74)" y="1" fill="#008000">S</text><text class="g" transform="translate(868.75 4338.82) scale(38.5 17.24)" y="1" fill="#0000CC">M</text><text class="g" transform="translate(868.75 4356.05) scale(38.5 10.01)" y="1" fill="#0000CC">I</text><text transform="translate(858.75 4376.3) rotate(90) scale(0.6 1)" class="cn c2">15</text>
<text class="g" transform="translate(913.85 4302.4) scale(38.5 23.07)" y="1" fill="#FFB300">G</text><text class="g" transform="translate(913.85 4334.09) scale(38.5 23.91)" y="1" fill="#008000">S</text><text class="g" transform="translate(913.85 4359.95) scale(38.5 8.06)" y="1" fill="#0000CC">A</text><text transform="translate(903.85 4376.3) rotate(90) scale(0.6 1)" class="cn c2">16</text>
<text class="g" transform="translate(958.95 4280.44) scale(38.5 77.56)" y="1" fill="#FFB300">G</text><text class="g" transform="translate(958.95 4360.78) scale(38.5 7.23)" y="1" fill="#0000CC">A</text><text transform="translate(948.95 4376.3) rotate(90) scale(0.6 1)" class="cn c2">17</text>
<text class="g" transform="translate(1004.05 4296.56) scale(38.5 35.58)" y="1" fill="#0000CC">A</text><text class="g" transform="translate(1004.05 4337.43) scale(38.5 24.46)" y="1" fill="#0000CC">V</text><text class="g" transform="translate(1004.05 4363.56) scale(38.5 4.17)" y="1" fill="#008000">S</text><text transform="translate(994.05 4376.3) rotate(90) scale(0.6 1)" class="cn c2">18</text>
<text class="g" transform="translate(1049.15 4326.31) scale(38.5 21.68)" y="1" fill="#008000">T</text><text class="g" transform="translate(1049.15 4349.94) scale(38.5 8.06)" y="1" fill="#0000CC">A</text><text class="g" transform="translate(1049.15 4358) scale(38.5 8.06)" y="1" fill="#0000CC">L</text><text transform="translate(1039.15 4376.3) rotate(90) scale(0.6 1)" class="cn c2">19</text>
<text class="g" transform="translate(1094.25 4316.3) scale(38.5 17.79)" y="1" fill="#008000">S</text><text class="g" transform="translate(1094.25 4338.82) scale(38.5 19.18)" y="1" fill="#0000CC">L</text><text class="g" transform="translate(1094.25 4363.56) scale(38.5 2.78)" y="1" fill="#FF00FF">E</text><text class="g" transform="translate(1094.25 4366.9) scale(38.5 3.61)" y="1" fill="#0000CC">A</text><text transform="translate(1084.25 4376.3) rotate(90) scale(0.6 1)" class="cn c2">20</text>
<text class="g" transform="translate(1139.35 4308.24) scale(38.5 23.91)" y="1" fill="#0000CC">M</text><text class="g" transform="translate(1139.35 4337.43) scale(38.5 16.68)" y="1" fill="#33E6CC">Y</text><text class="g" transform="translate(1139.35 4356.05) scale(38.5 13.9)" y="1" fill="#0000CC">L</text><text transform="translate(1129.35 4376.3) rotate(90) scale(0.6 1)" class="cn c2">21</text></g>
<g><path d="M212.2 4406.01V4529.3" stroke="#000" stroke-width="3.2" fill="none"/><path d="M206.6 4527.7H212.2" stroke="#000" stroke-width="3.2" fill="none"/><text transform="translate(202.7 4534.3) scale(1.12 1)" class="tk">0</text><path d="M206.6 4499.4H212.2" stroke="#000" stroke-width="3.2" fill="none"/><text transform="translate(202.7 4506) scale(1.12 1)" class="tk">1</text><path d="M206.6 4471.1H212.2" stroke="#000" stroke-width="3.2" fill="none"/><text transform="translate(202.7 4477.7) scale(1.12 1)" class="tk">2</text><path d="M206.6 4442.8H212.2" stroke="#000" stroke-width="3.2" fill="none"/><text transform="translate(202.7 4449.4) scale(1.12 1)" class="tk">3</text><path d="M206.6 4414.5H212.2" stroke="#000" stroke-width="3.2" fill="none"/><text transform="translate(202.7 4421.1) scale(1.12 1)" class="tk">4</text><text transform="translate(184.5 4467.7) rotate(-90)" class="bt">bits</text>
<text class="g" transform="translate(237.35 4475.35) scale(38.5 24.06)" y="1" fill="#0000CC">A</text><text class="g" transform="translate(237.35 4501.1) scale(38.5 13.87)" y="1" fill="#008000">S</text><text class="g" transform="translate(237.35 4517.8) scale(38.5 2.83)" y="1" fill="#CC0000">R</text><text class="g" transform="translate(237.35 4521.47) scale(38.5 3.4)" y="1" fill="#FFB300">G</text><text transform="translate(225.35 4532.9) rotate(90) scale(0.43 1)" class="cn">1</text>
<text class="g" transform="translate(282.45 4440.82) scale(38.5 70.18)" y="1" fill="#0000CC">L</text><text class="g" transform="translate(282.45 4512.14) scale(38.5 10.75)" y="1" fill="#0000CC">A</text><text transform="translate(270.45 4532.9) rotate(90) scale(0.43 1)" class="cn">2</text>
<text class="g" transform="translate(327.55 4467.42) scale(38.5 27.73)" y="1" fill="#008000">N</text><text class="g" transform="translate(327.55 4495.15) scale(38.5 15.85)" y="1" fill="#008000">T</text><text class="g" transform="translate(327.55 4512.98) scale(38.5 5.94)" y="1" fill="#FFB300">G</text><text class="g" transform="translate(327.55 4519.21) scale(38.5 5.66)" y="1" fill="#0000CC">A</text><text transform="translate(315.55 4532.9) rotate(90) scale(0.43 1)" class="cn">3</text>
<text class="g" transform="translate(372.65 4480.44) scale(38.5 18.96)" y="1" fill="#008000">S</text><text class="g" transform="translate(372.65 4499.4) scale(38.5 11.6)" y="1" fill="#008000">T</text><text class="g" transform="translate(372.65 4512.98) scale(38.5 9.9)" y="1" fill="#0000CC">M</text><text transform="translate(360.65 4532.9) rotate(90) scale(0.43 1)" class="cn">4</text>
<text class="g" transform="translate(417.75 4489.21) scale(38.5 15.85)" y="1" fill="#0000CC">L</text><text class="g" transform="translate(417.75 4507.89) scale(38.5 2.83)" y="1" fill="#FFB300">G</text><text class="g" transform="translate(417.75 4512.98) scale(38.5 9.9)" y="1" fill="#0000CC">A</text><text transform="translate(405.75 4532.9) rotate(90) scale(0.43 1)" class="cn">5</text>
<text class="g" transform="translate(462.85 4460.63) scale(38.5 24.62)" y="1" fill="#0000CC">F</text><text class="g" transform="translate(462.85 4488.36) scale(38.5 18.68)" y="1" fill="#FFFF00">P</text><text class="g" transform="translate(462.85 4508.17) scale(38.5 16.7)" y="1" fill="#008000">N</text><text transform="translate(450.85 4532.9) rotate(90) scale(0.43 1)" class="cn">6</text>
<text class="g" transform="translate(507.95 4457.52) scale(38.5 33.68)" y="1" fill="#008000">Q</text><text class="g" transform="translate(507.95 4496.29) scale(38.5 20.66)" y="1" fill="#FF00FF">E</text><text class="g" transform="translate(507.95 4519.21) scale(38.5 2.83)" y="1" fill="#FFB300">G</text><text transform="translate(495.95 4532.9) rotate(90) scale(0.43 1)" class="cn">7</text>
<text class="g" transform="translate(553.05 4473.36) scale(38.5 26.04)" y="1" fill="#0000CC">L</text><text class="g" transform="translate(553.05 4499.4) scale(38.5 15.57)" y="1" fill="#0000CC">V</text><text class="g" transform="translate(553.05 4516.38) scale(38.5 8.49)" y="1" fill="#0000CC">A</text><text transform="translate(541.05 4532.9) rotate(90) scale(0.43 1)" class="cn">8</text>
<text class="g" transform="translate(598.15 4487.23) scale(38.5 17.83)" y="1" fill="#0000CC">F</text><text class="g" transform="translate(598.15 4505.06) scale(38.5 9.91)" y="1" fill="#008000">S</text><text class="g" transform="translate(598.15 4514.97) scale(38.5 7.92)" y="1" fill="#0000CC">A</text><text transform="translate(586.15 4532.9) rotate(90) scale(0.43 1)" class="cn">9</text>
<text class="g" transform="translate(643.25 4457.52) scale(38.5 39.62)" y="1" fill="#0000CC">I</text><text class="g" transform="translate(643.25 4497.14) scale(38.5 17.83)" y="1" fill="#0000CC">V</text><text class="g" transform="translate(643.25 4516.38) scale(38.5 4.25)" y="1" fill="#008000">S</text><text class="g" transform="translate(643.25 4522.04) scale(38.5 2.83)" y="1" fill="#FFB300">G</text><text transform="translate(633.25 4532.1) rotate(90) scale(0.6 1)" class="cn c2">10</text>
<text class="g" transform="translate(688.35 4475.35) scale(38.5 19.81)" y="1" fill="#008000">T</text><text class="g" transform="translate(688.35 4496.29) scale(38.5 12.74)" y="1" fill="#008000">N</text><text class="g" transform="translate(688.35 4511) scale(38.5 11.89)" y="1" fill="#008000">S</text><text transform="translate(678.35 4532.1) rotate(90) scale(0.6 1)" class="cn c2">11</text>
<text class="g" transform="translate(733.45 4471.1) scale(38.5 24.06)" y="1" fill="#0000CC">I</text><text class="g" transform="translate(733.45 4495.15) scale(38.5 17.83)" y="1" fill="#0000CC">V</text><text class="g" transform="translate(733.45 4514.97) scale(38.5 7.92)" y="1" fill="#FFB300">G</text><text transform="translate(723.45 4532.1) rotate(90) scale(0.6 1)" class="cn c2">12</text>
<text class="g" transform="translate(778.55 4411.67) scale(38.5 113.2)" y="1" fill="#FFB300">G</text><text transform="translate(768.55 4532.1) rotate(90) scale(0.6 1)" class="cn c2">13</text>
<text class="g" transform="translate(823.65 4459.5) scale(38.5 45.56)" y="1" fill="#0000CC">I</text><text class="g" transform="translate(823.65 4507.04) scale(38.5 13.87)" y="1" fill="#0000CC">A</text><text transform="translate(813.65 4532.1) rotate(90) scale(0.6 1)" class="cn c2">14</text>
<text class="g" transform="translate(868.75 4452.7) scale(38.5 56.32)" y="1" fill="#0000CC">L</text><text class="g" transform="translate(868.75 4516.95) scale(38.5 5.94)" y="1" fill="#008000">S</text><text class="g" transform="translate(868.75 4523.45) scale(38.5 3.4)" y="1" fill="#0000CC">A</text><text transform="translate(858.75 4532.1) rotate(90) scale(0.6 1)" class="cn c2">15</text>
<text class="g" transform="translate(913.85 4479.31) scale(38.5 18.68)" y="1" fill="#0000CC">L</text><text class="g" transform="translate(913.85 4499.4) scale(38.5 11.32)" y="1" fill="#0000CC">V</text><text class="g" transform="translate(913.85 4510.72) scale(38.5 10.19)" y="1" fill="#0000CC">F</text><text transform="translate(903.85 4532.1) rotate(90) scale(0.6 1)" class="cn c2">16</text>
<text class="g" transform="translate(958.95 4453.55) scale(38.5 31.7)" y="1" fill="#0000CC">A</text><text class="g" transform="translate(958.95 4489.21) scale(38.5 17.83)" y="1" fill="#FFB300">G</text><text class="g" transform="translate(958.95 4509.02) scale(38.5 15.85)" y="1" fill="#008000">S</text><text transform="translate(948.95 4532.1) rotate(90) scale(0.6 1)" class="cn c2">17</text>
<text class="g" transform="translate(1004.05 4471.1) scale(38.5 24.06)" y="1" fill="#33E6CC">Y</text><text class="g" transform="translate(1004.05 4497.14) scale(38.5 17.83)" y="1" fill="#008000">N</text><text class="g" transform="translate(1004.05 4517.8) scale(38.5 4.24)" y="1" fill="#0000CC">A</text><text transform="translate(994.05 4532.1) rotate(90) scale(0.6 1)" class="cn c2">18</text>
<text class="g" transform="translate(1049.15 4479.31) scale(38.5 11.89)" y="1" fill="#0000CC">V</text><text class="g" transform="translate(1049.15 4493.17) scale(38.5 15.85)" y="1" fill="#0000CC">L</text><text class="g" transform="translate(1049.15 4512.14) scale(38.5 2.83)" y="1" fill="#FFB300">G</text><text class="g" transform="translate(1049.15 4516.95) scale(38.5 5.94)" y="1" fill="#0000CC">I</text><text transform="translate(1039.15 4532.1) rotate(90) scale(0.6 1)" class="cn c2">19</text>
<text class="g" transform="translate(1094.25 4485.25) scale(38.5 11.89)" y="1" fill="#0000CC">I</text><text class="g" transform="translate(1094.25 4499.4) scale(38.5 8.49)" y="1" fill="#008000">S</text><text class="g" transform="translate(1094.25 4507.89) scale(38.5 7.07)" y="1" fill="#0000CC">A</text><text class="g" transform="translate(1094.25 4516.95) scale(38.5 7.92)" y="1" fill="#0000CC">V</text><text transform="translate(1084.25 4532.1) rotate(90) scale(0.6 1)" class="cn c2">20</text>
<text class="g" transform="translate(1139.35 4439.4) scale(38.5 65.66)" y="1" fill="#008000">N</text><text class="g" transform="translate(1139.35 4507.04) scale(38.5 13.87)" y="1" fill="#FFB300">G</text><text class="g" transform="translate(1139.35 4522.04) scale(38.5 4.25)" y="1" fill="#0000CC">A</text><text transform="translate(1129.35 4532.1) rotate(90) scale(0.6 1)" class="cn c2">21</text></g></g>
</svg>
<div class="t sf" style="left:20.11px;top:2.5px;font-size:80px;transform:scaleX(1.0284);">a</div>
<div class="t" style="left:83.52px;top:39.78px;font-size:45.5px;font-weight:bold;transform:scaleX(1.1439);">Name</div>
<div class="t" style="left:377.06px;top:39.78px;font-size:45.5px;font-weight:bold;font-style:italic;transform:scaleX(1.0612);">p</div>
<div class="t" style="left:414.01px;top:39.78px;font-size:45.5px;font-weight:bold;transform:scaleX(1.1196);">-value</div>
<div class="t" style="left:632.02px;top:39.78px;font-size:45.5px;font-weight:bold;transform:scaleX(1.1441);">Motif Locations</div>
<div class="t" style="left:82.6px;top:123.89px;font-size:46.2px;transform:scaleX(1.1075);">MdSTP1</div>
<div class="t" style="left:363.88px;top:123.89px;font-size:46.2px;transform:scaleX(1.1240);">4.07e-169</div>
<div class="t" style="left:82.6px;top:215.97px;font-size:46.2px;transform:scaleX(1.1075);">MdSTP2</div>
<div class="t" style="left:363.6px;top:215.97px;font-size:46.2px;transform:scaleX(1.1240);">3.01e-135</div>
<div class="t" style="left:82.6px;top:308.05px;font-size:46.2px;transform:scaleX(1.1075);">MdSTP3</div>
<div class="t" style="left:363.95px;top:308.05px;font-size:46.2px;transform:scaleX(1.1240);">2.20e-161</div>
<div class="t" style="left:82.6px;top:400.13px;font-size:46.2px;transform:scaleX(1.1075);">MdSTP4</div>
<div class="t" style="left:364.03px;top:400.13px;font-size:46.2px;transform:scaleX(1.1240);">1.41e-147</div>
<div class="t" style="left:82.6px;top:492.21px;font-size:46.2px;transform:scaleX(1.1075);">MdSTP5</div>
<div class="t" style="left:363.67px;top:492.21px;font-size:46.2px;transform:scaleX(1.1240);">1.21e-138</div>
<div class="t" style="left:82.6px;top:584.29px;font-size:46.2px;transform:scaleX(1.1075);">MdSTP6</div>
<div class="t" style="left:363.95px;top:584.29px;font-size:46.2px;transform:scaleX(1.1240);">7.63e-171</div>
<div class="t" style="left:82.6px;top:676.37px;font-size:46.2px;transform:scaleX(1.1075);">MdSTP7</div>
<div class="t" style="left:363.45px;top:676.37px;font-size:46.2px;transform:scaleX(1.1240);">2.35e-170</div>
<div class="t" style="left:82.6px;top:768.45px;font-size:46.2px;transform:scaleX(1.1075);">MdSTP8</div>
<div class="t" style="left:364.03px;top:768.45px;font-size:46.2px;transform:scaleX(1.1240);">2.61e-117</div>
<div class="t" style="left:82.6px;top:860.53px;font-size:46.2px;transform:scaleX(1.1075);">MdSTP9</div>
<div class="t" style="left:363.7px;top:860.53px;font-size:46.2px;transform:scaleX(1.1240);">1.22e-113</div>
<div class="t" style="left:82.6px;top:952.61px;font-size:46.2px;transform:scaleX(1.1075);">MdSTP10</div>
<div class="t" style="left:363.7px;top:952.61px;font-size:46.2px;transform:scaleX(1.1240);">7.67e-126</div>
<div class="t" style="left:82.6px;top:1044.69px;font-size:46.2px;transform:scaleX(1.1075);">MdSTP11</div>
<div class="t" style="left:362.94px;top:1044.69px;font-size:46.2px;transform:scaleX(1.1240);">4.00e-164</div>
<div class="t" style="left:82.6px;top:1136.77px;font-size:46.2px;transform:scaleX(1.1075);">MdSTP12</div>
<div class="t" style="left:363.45px;top:1136.77px;font-size:46.2px;transform:scaleX(1.1240);">1.17e-170</div>
<div class="t" style="left:82.6px;top:1228.85px;font-size:46.2px;transform:scaleX(1.1075);">MdSTP13</div>
<div class="t" style="left:363.7px;top:1228.85px;font-size:46.2px;transform:scaleX(1.1240);">6.59e-153</div>
<div class="t" style="left:82.6px;top:1320.93px;font-size:46.2px;transform:scaleX(1.1075);">MdSTP14</div>
<div class="t" style="left:364.03px;top:1320.93px;font-size:46.2px;transform:scaleX(1.1240);">9.60e-172</div>
<div class="t" style="left:82.6px;top:1413.01px;font-size:46.2px;transform:scaleX(1.1075);">MdSTP15</div>
<div class="t" style="left:363.6px;top:1413.01px;font-size:46.2px;transform:scaleX(1.1240);">8.00e-175</div>
<div class="t" style="left:82.6px;top:1505.09px;font-size:46.2px;transform:scaleX(1.1075);">MdSTP16</div>
<div class="t" style="left:363.45px;top:1505.09px;font-size:46.2px;transform:scaleX(1.1240);">6.38e-140</div>
<div class="t" style="left:82.6px;top:1597.17px;font-size:46.2px;transform:scaleX(1.1075);">MdSTP17</div>
<div class="t" style="left:363.6px;top:1597.17px;font-size:46.2px;transform:scaleX(1.1240);">4.57e-185</div>
<div class="t" style="left:82.6px;top:1689.25px;font-size:46.2px;transform:scaleX(1.1075);">MdSTP18</div>
<div class="t" style="left:362.94px;top:1689.25px;font-size:46.2px;transform:scaleX(1.1240);">1.53e-124</div>
<div class="t" style="left:82.6px;top:1781.33px;font-size:46.2px;transform:scaleX(1.1075);">MdSTP19</div>
<div class="t" style="left:363.45px;top:1781.33px;font-size:46.2px;transform:scaleX(1.1240);">2.35e-170</div>
<div class="t" style="left:82.6px;top:1873.41px;font-size:46.2px;transform:scaleX(1.1075);">MdSTP20</div>
<div class="t" style="left:363.95px;top:1873.41px;font-size:46.2px;transform:scaleX(1.1240);">3.45e-171</div>
<div class="t" style="left:82.6px;top:1965.49px;font-size:46.2px;transform:scaleX(1.1075);">MdSTP21</div>
<div class="t" style="left:362.94px;top:1965.49px;font-size:46.2px;transform:scaleX(1.1240);">4.07e-134</div>
<div class="t" style="left:82.6px;top:2057.57px;font-size:46.2px;transform:scaleX(1.1075);">MdSTP22</div>
<div class="t" style="left:363.7px;top:2057.57px;font-size:46.2px;transform:scaleX(1.1240);">1.05e-186</div>
<div class="t" style="left:82.6px;top:2149.65px;font-size:46.2px;transform:scaleX(1.1075);">MdSTP23</div>
<div class="t" style="left:363.7px;top:2149.65px;font-size:46.2px;transform:scaleX(1.1240);">1.05e-173</div>
<div class="t" style="left:84.8px;top:2231.09px;font-size:46.2px;transform:scaleX(1.1075);">MdSTP24</div>
<div class="t" style="left:364.65px;top:2231.09px;font-size:46.2px;transform:scaleX(1.1240);">1.37e-170</div>
<div class="t" style="left:84.8px;top:2323.09px;font-size:46.2px;transform:scaleX(1.1075);">MdSTP25</div>
<div class="t" style="left:393.02px;top:2323.09px;font-size:46.2px;transform:scaleX(1.1240);">2.00e-74</div>
<div class="t" style="left:84.8px;top:2415.09px;font-size:46.2px;transform:scaleX(1.1075);">MdSTP26</div>
<div class="t" style="left:393.75px;top:2415.09px;font-size:46.2px;transform:scaleX(1.1240);">1.14e-98</div>
<div class="t" style="left:84.8px;top:2507.09px;font-size:46.2px;transform:scaleX(1.1075);">MdSTP27</div>
<div class="t" style="left:364.65px;top:2507.09px;font-size:46.2px;transform:scaleX(1.1240);">1.21e-140</div>
<div class="t" style="left:84.8px;top:2599.09px;font-size:46.2px;transform:scaleX(1.1075);">MdSTP28</div>
<div class="t" style="left:365.23px;top:2599.09px;font-size:46.2px;transform:scaleX(1.1240);">3.43e-167</div>
<div class="t" style="left:84.8px;top:2691.09px;font-size:46.2px;transform:scaleX(1.1075);">MdSTP29</div>
<div class="t" style="left:364.14px;top:2691.09px;font-size:46.2px;transform:scaleX(1.1240);">8.97e-184</div>
<div class="t" style="left:84.8px;top:2783.09px;font-size:46.2px;transform:scaleX(1.1075);">MdSTP30</div>
<div class="t" style="left:364.9px;top:2783.09px;font-size:46.2px;transform:scaleX(1.1240);">2.52e-136</div>
<div class="t" style="left:2334.72px;top:120.13px;font-size:38.6px;font-weight:bold;transform:scaleX(1.0763);">Motif</div>
<div class="t" style="left:2458.39px;top:120.13px;font-size:38.6px;font-weight:bold;transform:scaleX(1.0880);">Symbol</div>
<div class="t" style="left:2644.74px;top:120.13px;font-size:38.6px;font-weight:bold;transform:scaleX(1.0708);">Motif Consensus</div>
<div class="t" style="left:2395.81px;top:163.77px;font-size:35px;transform:scaleX(1.2000);">1.</div>
<div class="t mn" style="left:2644.6px;top:171.41px;font-size:30.8px;transform:scaleX(1.3385);color:#2b2b2b;">MLIIGRJLAGVGVGFANMIVPLYJAEIAPAKIRG</div>
<div class="t" style="left:2395.81px;top:197.37px;font-size:35px;transform:scaleX(1.2000);">2.</div>
<div class="t mn" style="left:2643.29px;top:205.01px;font-size:30.8px;transform:scaleX(1.3385);color:#2b2b2b;">FSWGWGPLGWLVPSEIFPLEJRSAGQSJG</div>
<div class="t" style="left:2395.81px;top:230.97px;font-size:35px;transform:scaleX(1.2000);">3.</div>
<div class="t mn" style="left:2643.66px;top:238.61px;font-size:30.8px;transform:scaleX(1.3385);color:#2b2b2b;">JPFFQQLTGINAVVFYAPVJFZTAGFGSD</div>
<div class="t" style="left:2395.81px;top:264.57px;font-size:35px;transform:scaleX(1.2000);">4.</div>
<div class="t mn" style="left:2642.43px;top:272.21px;font-size:30.8px;transform:scaleX(1.3385);color:#2b2b2b;">LPESPRWLVERGRLEEAKKVLQKIRGSEE</div>
<div class="t" style="left:2395.81px;top:298.17px;font-size:35px;transform:scaleX(1.2000);">5.</div>
<div class="t mn" style="left:2644.6px;top:305.81px;font-size:30.8px;transform:scaleX(1.3385);color:#2b2b2b;">MTVFVYFLLPETKGRPJEEME</div>
<div class="t" style="left:2395.81px;top:331.77px;font-size:35px;transform:scaleX(1.2000);">6.</div>
<div class="t mn" style="left:2647.2px;top:339.41px;font-size:30.8px;transform:scaleX(1.3385);color:#2b2b2b;">ATLVSIYFVDKFGRRPLLLE</div>
<div class="t" style="left:2395.81px;top:365.37px;font-size:35px;transform:scaleX(1.2000);">7.</div>
<div class="t mn" style="left:2647.2px;top:373.01px;font-size:30.8px;transform:scaleX(1.3385);color:#2b2b2b;">AALVGSLFAGKTTDWJGRKYTILLAGVVFLVGAJLMAAAPN</div>
<div class="t" style="left:2395.81px;top:398.97px;font-size:35px;transform:scaleX(1.2000);">8.</div>
<div class="t mn" style="left:2644.93px;top:406.61px;font-size:30.8px;transform:scaleX(1.3385);color:#2b2b2b;">GWGWRLMLGLAAVPA</div>
<div class="t" style="left:2395.81px;top:432.57px;font-size:35px;transform:scaleX(1.2000);">9.</div>
<div class="t mn" style="left:2647.2px;top:440.21px;font-size:30.8px;transform:scaleX(1.3385);color:#2b2b2b;">AAIGGLLFGYDIGVSGGATSM</div>
<div class="t" style="left:2372.45px;top:466.17px;font-size:35px;transform:scaleX(1.2000);">10.</div>
<div class="t mn" style="left:2647.2px;top:473.81px;font-size:30.8px;transform:scaleX(1.3385);color:#2b2b2b;">ALNSLFQLFITIGILLAYVIN</div>
<div class="t sf" style="left:50px;top:2882px;font-size:80px;">b</div>
<div class="t sf" style="left:875px;top:2892.43px;font-size:58px;font-weight:bold;transform:scaleX(1.0124);">Logo</div>
<div class="t sf" style="left:2603.86px;top:2903.09px;font-size:59px;font-weight:bold;transform:scaleX(1.0118);">Name</div>
<div class="t sf" style="left:3680.17px;top:2899.09px;font-size:59px;font-weight:bold;transform:scaleX(0.9973);">Width</div>
<div class="t sf" style="left:2171.64px;top:3090.07px;font-size:43.5px;font-weight:bold;transform:scaleX(1.0219);">MLIIGRJLAGVGVGFANMIVPLYJAEIAPAKIRG</div>
<div class="t sf" style="left:2171.64px;top:3238.87px;font-size:43.5px;font-weight:bold;transform:scaleX(1.0232);">FSWGWGPLGWLVPSEIFPLEJRSAGQSJG</div>
<div class="t sf" style="left:2170.42px;top:3381.57px;font-size:43.5px;font-weight:bold;transform:scaleX(1.0241);">JPFFQQLTGINAVVFYAPVJFZTAGFGSD</div>
<div class="t sf" style="left:2177.64px;top:3545.57px;font-size:43.5px;font-weight:bold;transform:scaleX(1.0224);">LPESPRWLVERGRLEEAKKVLQKIRGSEE</div>
<div class="t sf" style="left:2187.74px;top:3704.17px;font-size:43.5px;font-weight:bold;transform:scaleX(1.0251);">MTVFVYFLLPETKGRPJEEME</div>
<div class="t sf" style="left:2175.97px;top:3852.97px;font-size:43.5px;font-weight:bold;transform:scaleX(1.0215);">ATLVSIYFVDKFGRRPLLLE</div>
<div class="t sf" style="left:2182.07px;top:4025.97px;font-size:43.5px;font-weight:bold;transform:scaleX(1.0197);">AALVGSLFAGKTTDWJGRKYTILLAGVVFLVGAJLMAAAPN</div>
<div class="t sf" style="left:2186.33px;top:4174.77px;font-size:43.5px;font-weight:bold;transform:scaleX(1.0221);">GWGWRLMLGLAAVPA</div>
<div class="t sf" style="left:2188.07px;top:4323.57px;font-size:43.5px;font-weight:bold;transform:scaleX(1.0172);">AAIGGLLFGYDIGVSGGATSM</div>
<div class="t sf" style="left:2188.07px;top:4460.37px;font-size:43.5px;font-weight:bold;transform:scaleX(1.0157);">ALNSLFQLFITIGILLAYVIN</div>
<div class="t sf" style="left:3734.78px;top:3039.89px;font-size:59px;font-weight:bold;">34</div>
<div class="t sf" style="left:3743.52px;top:3200.59px;font-size:59px;font-weight:bold;">29</div>
<div class="t sf" style="left:3743.52px;top:3335.59px;font-size:59px;font-weight:bold;">29</div>
<div class="t sf" style="left:3752.52px;top:3500.59px;font-size:59px;font-weight:bold;">29</div>
<div class="t sf" style="left:3750.82px;top:3642.89px;font-size:59px;font-weight:bold;">21</div>
<div class="t sf" style="left:3752.82px;top:3818.89px;font-size:59px;font-weight:bold;">20</div>
<div class="t sf" style="left:3754.49px;top:3952.59px;font-size:59px;font-weight:bold;">41</div>
<div class="t sf" style="left:3748.58px;top:4120.59px;font-size:59px;font-weight:bold;">15</div>
<div class="t sf" style="left:3750.82px;top:4280.49px;font-size:59px;font-weight:bold;">21</div>
<div class="t sf" style="left:3750.82px;top:4415.19px;font-size:59px;font-weight:bold;">21</div>
<div class="t sf" style="left:75.04px;top:3058.1px;font-size:40px;font-weight:bold;transform:scaleX(1.7972);">1.</div>
<div class="t sf" style="left:78.08px;top:3209.5px;font-size:40px;font-weight:bold;transform:scaleX(1.6188);">2.</div>
<div class="t sf" style="left:78.38px;top:3366.7px;font-size:40px;font-weight:bold;transform:scaleX(1.6082);">3.</div>
<div class="t sf" style="left:79.95px;top:3520.8px;font-size:40px;font-weight:bold;transform:scaleX(1.5526);">4.</div>
<div class="t sf" style="left:78.21px;top:3676.7px;font-size:40px;font-weight:bold;transform:scaleX(1.6141);">5.</div>
<div class="t sf" style="left:78.61px;top:3832.9px;font-size:40px;font-weight:bold;transform:scaleX(1.6000);">6.</div>
<div class="t sf" style="left:77.01px;top:3986.7px;font-size:40px;font-weight:bold;transform:scaleX(1.6566);">7.</div>
<div class="t sf" style="left:78.68px;top:4143.5px;font-size:40px;font-weight:bold;transform:scaleX(1.5977);">8.</div>
<div class="t sf" style="left:79.07px;top:4299.9px;font-size:40px;font-weight:bold;transform:scaleX(1.5839);">9.</div>
<div class="t sf" style="left:56.15px;top:4453.7px;font-size:40px;font-weight:bold;transform:scaleX(1.7629);">10.</div>
</body></html>
